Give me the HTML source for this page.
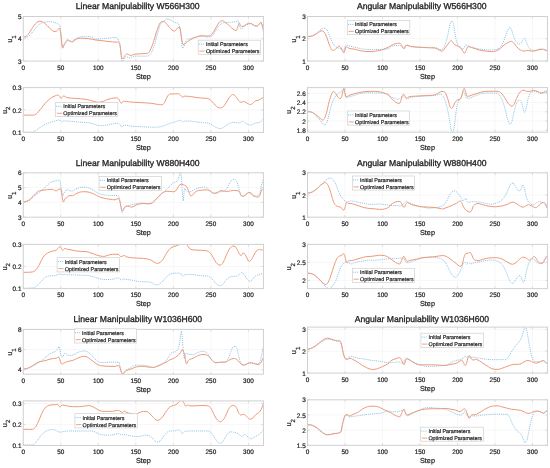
<!DOCTYPE html><html><head><meta charset="utf-8"><style>html,body{margin:0;padding:0;background:#fff;}svg{display:block;}text{font-family:"Liberation Sans",Arial,sans-serif;fill:#222222;stroke:#222222;stroke-width:0.2px;text-rendering:geometricPrecision;}</style></head><body>
<svg width="550" height="468" viewBox="0 0 550 468">
<rect width="550" height="468" fill="#fff"/>
<text x="75.8" y="9.2" font-size="8.6" style="stroke-width:0.3px">Linear Manipulability W566H300</text>
<text x="357.0" y="9.2" font-size="8.6" style="stroke-width:0.3px">Angular Manipulability W566H300</text>
<text x="75.8" y="165.9" font-size="8.6" style="stroke-width:0.3px">Linear Manipulability W880H400</text>
<text x="357.0" y="165.9" font-size="8.6" style="stroke-width:0.3px">Angular Manipulability W880H400</text>
<text x="73.6" y="322.2" font-size="8.6" style="stroke-width:0.3px">Linear Manipulability W1036H600</text>
<text x="354.8" y="322.2" font-size="8.6" style="stroke-width:0.3px">Angular Manipulability W1036H600</text>
<path d="M60.78 16.50V61.05M98.31 16.50V61.05M135.84 16.50V61.05M173.38 16.50V61.05M210.91 16.50V61.05M248.44 16.50V61.05M23.25 38.77H263.45" stroke="#f1f1f1" stroke-width="0.6" fill="none"/>
<clipPath id="cL1"><rect x="23.25" y="16.50" width="240.20" height="44.55"/></clipPath>
<path clip-path="url(#cL1)" d="M23.33,38.23C24.21,38.01 25.10,37.86 25.98,37.56C26.87,37.27 27.75,36.83 28.64,36.24C29.52,35.65 30.41,34.56 31.29,33.58C32.18,32.60 33.06,31.37 33.95,30.26C34.83,29.16 35.72,27.87 36.60,26.95C37.48,26.02 38.37,25.19 39.25,24.56C40.14,23.92 41.02,23.28 41.91,22.96C42.79,22.65 43.68,22.47 44.56,22.30C45.45,22.13 46.33,22.01 47.22,21.90C48.10,21.80 48.99,21.64 49.87,21.64C51.20,21.64 52.53,21.99 53.85,22.30C54.74,22.50 55.62,22.85 56.51,23.23C57.17,23.51 57.84,23.82 58.50,24.29C58.94,24.61 59.38,24.79 59.83,25.62C60.05,26.03 60.27,27.94 60.49,29.60C60.71,31.26 60.93,34.02 61.15,36.24C61.38,38.45 61.60,41.21 61.82,42.87C62.04,44.53 62.26,46.85 62.48,46.85C62.92,46.85 63.37,45.56 63.81,44.86C64.47,43.82 65.14,42.66 65.80,41.55C66.24,40.80 66.68,39.29 67.13,39.29C67.57,39.29 68.01,39.58 68.45,39.82C68.90,40.06 69.34,40.67 69.78,40.88C70.45,41.20 71.11,41.55 71.77,41.55C72.44,41.55 73.10,40.69 73.76,40.22C74.65,39.60 75.53,38.65 76.42,38.23C77.30,37.80 78.19,37.50 79.07,37.30C80.40,36.99 81.73,36.63 83.05,36.63C84.38,36.63 85.71,36.63 87.04,36.63C88.36,36.63 89.69,36.74 91.02,36.90C92.35,37.06 93.68,39.09 95.02,39.09C96.69,39.09 98.36,38.87 100.04,38.76C101.71,38.64 103.38,38.56 105.05,38.42C106.73,38.29 108.40,38.10 110.07,37.92C111.47,37.77 112.86,37.42 114.25,37.42C115.09,37.42 115.93,37.62 116.76,37.92C117.32,38.12 117.88,38.94 118.44,39.93C118.88,40.71 119.33,42.04 119.77,44.11C120.16,45.92 120.56,51.15 120.95,54.15C121.22,56.28 121.50,59.35 121.78,60.00C122.06,60.65 122.34,61.17 122.62,61.17C123.18,61.17 123.73,59.58 124.29,58.83C124.85,58.08 125.41,56.65 125.96,56.65C126.52,56.65 127.08,56.97 127.64,57.16C128.19,57.35 128.75,57.83 129.31,57.83C130.15,57.83 130.98,57.39 131.82,57.16C132.93,56.84 134.05,56.15 135.16,56.15C136.84,56.15 138.51,56.15 140.18,56.15C141.85,56.15 143.53,56.15 145.20,56.15C146.32,56.15 147.43,56.03 148.55,55.82C149.38,55.66 150.22,54.48 151.05,53.31C151.89,52.14 152.73,49.67 153.56,47.45C154.12,45.98 154.68,44.35 155.24,42.44C155.79,40.52 156.35,37.83 156.91,35.75C157.47,33.66 158.02,31.69 158.58,29.89C159.14,28.09 159.70,25.99 160.25,24.87C160.81,23.76 161.37,22.89 161.93,22.36C162.76,21.57 163.60,21.25 164.44,20.69C165.27,20.13 166.11,19.02 166.95,19.02C167.78,19.02 168.62,19.29 169.45,19.52C170.29,19.75 171.13,20.23 171.96,20.69C172.80,21.15 173.64,22.18 174.47,22.36C175.31,22.55 176.15,22.50 176.98,22.70C177.72,22.87 178.45,23.53 179.18,24.87C179.46,25.38 179.74,27.41 180.02,29.05C180.46,31.69 180.91,35.67 181.36,39.09C181.75,42.09 182.14,48.29 182.53,48.29C182.81,48.29 183.08,47.83 183.36,47.45C183.92,46.69 184.48,44.51 185.04,43.27C185.59,42.03 186.15,40.37 186.71,39.93C187.27,39.48 187.82,39.28 188.38,39.09C189.50,38.70 190.61,38.55 191.73,38.25C193.12,37.89 194.52,37.32 195.91,37.08C197.30,36.85 198.70,36.58 200.09,36.58C201.48,36.58 202.88,36.58 204.27,36.58C205.67,36.58 207.06,37.08 208.45,37.08C209.29,37.08 210.13,36.86 210.96,36.58C211.80,36.30 212.64,35.12 213.47,34.07C214.31,33.03 215.15,31.13 215.98,29.89C216.82,28.65 217.65,27.50 218.49,26.55C219.33,25.59 220.16,24.62 221.00,24.04C221.84,23.45 222.67,22.84 223.51,22.70C224.62,22.50 225.74,22.36 226.85,22.36C227.97,22.36 229.08,22.36 230.20,22.36C231.32,22.36 232.43,22.18 233.55,22.03C234.38,21.92 235.22,21.75 236.05,21.53C236.78,21.34 237.50,20.69 238.23,20.69C238.62,20.69 239.01,24.62 239.40,25.71C239.96,27.26 240.52,29.05 241.07,29.05C241.63,29.05 242.19,28.60 242.75,28.22C243.58,27.65 244.42,25.88 245.25,25.37C246.37,24.70 247.48,24.21 248.60,24.04C249.72,23.86 250.83,23.70 251.95,23.70C252.78,23.70 253.62,25.52 254.45,25.71C255.29,25.90 256.13,26.04 256.96,26.04C257.80,26.04 258.64,24.85 259.47,24.04C260.03,23.49 260.59,22.03 261.15,22.03C261.70,22.03 262.26,24.19 262.82,24.87C263.10,25.21 263.38,25.43 263.65,25.71" stroke="#7dbde6" stroke-width="0.9" fill="none" stroke-linejoin="round" stroke-linecap="butt" stroke-dasharray="1.1 1.0"/>
<path clip-path="url(#cL1)" d="M23.33,36.90C24.21,36.68 25.10,36.59 25.98,36.24C26.87,35.88 27.75,34.64 28.64,33.58C29.52,32.52 30.41,30.93 31.29,29.60C32.18,28.27 33.06,26.74 33.95,25.62C34.83,24.50 35.72,23.35 36.60,22.70C37.48,22.05 38.37,21.24 39.25,21.24C39.92,21.24 40.58,21.29 41.25,21.37C41.91,21.45 42.57,21.92 43.24,22.30C44.12,22.80 45.01,23.53 45.89,24.29C46.78,25.05 47.66,26.06 48.55,26.95C49.43,27.83 50.32,28.90 51.20,29.60C52.08,30.30 52.97,31.14 53.85,31.33C54.52,31.47 55.18,31.59 55.85,31.59C56.51,31.59 57.17,30.54 57.84,29.87C58.28,29.42 58.72,28.27 59.16,28.27C59.38,28.27 59.61,28.57 59.83,28.94C60.05,29.31 60.27,30.89 60.49,32.25C60.71,33.62 60.93,35.60 61.15,37.56C61.38,39.53 61.60,42.54 61.82,44.20C62.04,45.86 62.26,48.18 62.48,48.18C62.70,48.18 62.92,47.82 63.15,47.52C63.59,46.91 64.03,44.99 64.47,44.20C65.14,43.02 65.80,42.30 66.46,41.55C66.91,41.04 67.35,40.22 67.79,40.22C68.23,40.22 68.68,40.72 69.12,40.88C69.56,41.05 70.00,41.11 70.45,41.28C70.89,41.45 71.33,41.94 71.77,41.94C72.22,41.94 72.66,41.73 73.10,41.55C73.76,41.26 74.43,40.37 75.09,39.95C75.98,39.40 76.86,38.83 77.75,38.63C78.63,38.42 79.52,38.23 80.40,38.23C81.73,38.23 83.05,38.30 84.38,38.36C85.71,38.42 87.04,38.50 88.36,38.63C89.69,38.75 91.02,39.03 92.35,39.29C93.24,39.47 94.13,39.80 95.02,39.93C96.69,40.17 98.36,40.24 100.04,40.43C101.71,40.62 103.38,40.91 105.05,41.10C106.73,41.29 108.40,41.43 110.07,41.60C111.75,41.77 113.42,42.10 115.09,42.10C115.93,42.10 116.76,42.10 117.60,42.10C118.16,42.10 118.72,42.33 119.27,42.77C119.55,42.99 119.83,44.40 120.11,45.78C120.39,47.17 120.67,50.49 120.95,52.47C121.22,54.46 121.50,57.39 121.78,57.83C122.17,58.44 122.56,58.83 122.95,58.83C123.40,58.83 123.84,57.30 124.29,56.65C124.85,55.85 125.41,54.91 125.96,54.48C126.35,54.18 126.74,53.81 127.13,53.81C127.58,53.81 128.03,54.24 128.47,54.48C129.03,54.78 129.59,55.48 130.15,55.48C130.98,55.48 131.82,55.19 132.65,54.98C133.49,54.77 134.33,54.25 135.16,54.15C136.84,53.94 138.51,53.92 140.18,53.81C141.85,53.70 143.53,53.59 145.20,53.48C146.04,53.42 146.87,53.42 147.71,53.31C148.27,53.24 148.82,52.38 149.38,51.64C149.94,50.89 150.50,49.53 151.05,48.29C151.61,47.05 152.17,45.63 152.73,44.11C153.28,42.59 153.84,40.89 154.40,39.09C154.96,37.29 155.52,35.04 156.07,33.24C156.63,31.43 157.19,29.74 157.75,28.22C158.30,26.70 158.86,24.94 159.42,24.04C159.98,23.13 160.53,22.23 161.09,22.03C161.93,21.73 162.76,21.53 163.60,21.53C164.16,21.53 164.72,21.97 165.27,22.36C165.83,22.76 166.39,23.70 166.95,24.37C167.78,25.37 168.62,26.47 169.45,27.38C170.29,28.29 171.13,29.36 171.96,29.89C172.80,30.42 173.64,31.06 174.47,31.06C175.03,31.06 175.59,30.40 176.15,29.89C176.70,29.38 177.26,27.89 177.82,27.72C178.44,27.52 179.06,27.38 179.68,27.38C180.07,27.38 180.46,30.18 180.85,32.40C181.13,33.98 181.41,37.56 181.69,39.09C182.14,41.53 182.58,44.44 183.03,44.44C183.70,44.44 184.37,44.09 185.04,43.77C185.87,43.38 186.71,42.23 187.55,41.60C188.38,40.97 189.22,40.41 190.05,39.93C191.17,39.29 192.28,38.75 193.40,38.25C194.52,37.76 195.63,37.33 196.75,36.92C197.86,36.50 198.98,35.75 200.09,35.75C201.21,35.75 202.32,35.75 203.44,35.75C204.83,35.75 206.22,36.08 207.62,36.08C208.45,36.08 209.29,35.94 210.13,35.75C210.96,35.55 211.80,34.28 212.64,33.24C213.47,32.19 214.31,30.45 215.15,29.05C215.98,27.66 216.82,26.11 217.65,24.87C218.49,23.63 219.33,21.97 220.16,21.53C221.00,21.08 221.84,20.69 222.67,20.69C223.51,20.69 224.35,21.77 225.18,22.36C226.30,23.15 227.41,23.92 228.53,24.87C229.64,25.83 230.76,27.33 231.87,28.22C232.71,28.88 233.55,29.42 234.38,29.89C234.94,30.21 235.50,30.73 236.05,30.73C236.44,30.73 236.84,29.59 237.23,28.72C237.67,27.73 238.12,25.22 238.56,24.37C238.84,23.84 239.12,23.20 239.40,23.20C239.79,23.20 240.18,25.33 240.57,25.71C241.02,26.15 241.46,26.55 241.91,26.55C242.75,26.55 243.58,26.08 244.42,25.71C245.25,25.34 246.09,24.41 246.93,24.04C247.76,23.66 248.60,23.20 249.44,23.20C250.27,23.20 251.11,23.66 251.95,24.04C252.78,24.41 253.62,25.52 254.45,25.71C255.29,25.89 256.13,26.04 256.96,26.04C257.80,26.04 258.64,24.57 259.47,23.70C259.86,23.30 260.25,22.36 260.64,22.36C261.09,22.36 261.54,23.70 261.98,24.87C262.43,26.04 262.87,28.78 263.32,30.73" stroke="#ee9878" stroke-width="1.0" fill="none" stroke-linejoin="round" stroke-linecap="butt"/>
<rect x="23.25" y="16.50" width="240.20" height="44.55" stroke="#d0d0d0" stroke-width="1" fill="none"/>
<path d="M23.25 61.05v-2.2M23.25 16.50v2.2M60.78 61.05v-2.2M60.78 16.50v2.2M98.31 61.05v-2.2M98.31 16.50v2.2M135.84 61.05v-2.2M135.84 16.50v2.2M173.38 61.05v-2.2M173.38 16.50v2.2M210.91 61.05v-2.2M210.91 16.50v2.2M248.44 61.05v-2.2M248.44 16.50v2.2M23.25 61.05h2.2M263.45 61.05h-2.2M23.25 38.77h2.2M263.45 38.77h-2.2M23.25 16.50h2.2M263.45 16.50h-2.2" stroke="#d0d0d0" stroke-width="0.7" fill="none"/>
<text x="23.25" y="69.55" font-size="6.4" text-anchor="middle">0</text>
<text x="60.78" y="69.55" font-size="6.4" text-anchor="middle">50</text>
<text x="98.31" y="69.55" font-size="6.4" text-anchor="middle">100</text>
<text x="135.84" y="69.55" font-size="6.4" text-anchor="middle">150</text>
<text x="173.38" y="69.55" font-size="6.4" text-anchor="middle">200</text>
<text x="210.91" y="69.55" font-size="6.4" text-anchor="middle">250</text>
<text x="248.44" y="69.55" font-size="6.4" text-anchor="middle">300</text>
<text x="21.45" y="63.65" font-size="6.4" text-anchor="end">3</text>
<text x="21.45" y="41.38" font-size="6.4" text-anchor="end">4</text>
<text x="21.45" y="19.10" font-size="6.4" text-anchor="end">5</text>
<text x="143.35" y="78.55" font-size="7.25" text-anchor="middle">Step</text>
<text transform="translate(12.15 39.07) rotate(-90)" font-size="7.4" text-anchor="middle">u<tspan font-size="6" dy="3.7">1</tspan></text>
<rect x="198.20" y="40.20" width="62.40" height="14.10" fill="#fff" stroke="#d0d0d0" stroke-width="0.7"/>
<path d="M198.80 44.10h5.6" stroke="#7dbde6" stroke-width="0.9" stroke-dasharray="1.1 1.0"/>
<path d="M199.40 51.10h5.2" stroke="#ee9878" stroke-width="0.9"/>
<text x="205.90" y="46.00" font-size="5.4">Initial Parameters</text>
<text x="205.90" y="53.00" font-size="5.4">Optimized Parameters</text>
<path d="M60.78 87.60V132.40M98.31 87.60V132.40M135.84 87.60V132.40M173.38 87.60V132.40M210.91 87.60V132.40M248.44 87.60V132.40M23.25 110.00H263.45" stroke="#f1f1f1" stroke-width="0.6" fill="none"/>
<clipPath id="cL2"><rect x="23.25" y="87.60" width="240.20" height="44.80"/></clipPath>
<path clip-path="url(#cL2)" d="M23.01,132.19C24.24,132.19 25.46,132.19 26.69,132.19C28.36,132.19 30.04,132.19 31.71,132.19C32.82,132.19 33.94,131.55 35.05,131.02C36.17,130.49 37.28,129.25 38.40,128.51C39.52,127.77 40.63,127.20 41.75,126.50C42.86,125.81 43.98,124.83 45.09,124.33C46.21,123.82 47.32,123.57 48.44,123.16C49.55,122.74 50.67,122.16 51.78,121.82C52.90,121.48 54.01,121.30 55.13,120.98C55.96,120.74 56.80,120.35 57.64,120.15C58.19,120.01 58.75,119.81 59.31,119.81C59.76,119.81 60.20,120.63 60.65,120.98C61.04,121.29 61.43,121.82 61.82,121.82C62.38,121.82 62.93,120.98 63.49,120.98C64.61,120.98 65.72,120.98 66.84,120.98C68.51,120.98 70.18,121.18 71.85,121.32C73.53,121.45 75.20,121.65 76.87,121.82C78.55,121.99 80.22,122.19 81.89,122.32C83.56,122.45 85.24,122.50 86.91,122.65C88.58,122.81 90.25,123.12 91.93,123.49C93.60,123.86 95.27,124.83 96.95,125.16C98.06,125.39 99.18,125.67 100.29,125.67C101.41,125.67 102.52,125.58 103.64,125.50C105.77,125.34 107.90,124.70 110.04,124.33C111.71,124.04 113.38,123.74 115.05,123.49C115.89,123.37 116.73,123.16 117.56,123.16C118.12,123.16 118.68,123.48 119.24,123.83C119.79,124.17 120.35,125.25 120.91,126.00C121.19,126.38 121.47,127.17 121.75,127.17C122.19,127.17 122.64,125.64 123.08,125.50C123.75,125.29 124.42,125.16 125.09,125.16C126.76,125.16 128.44,125.82 130.11,126.00C132.34,126.23 134.57,126.37 136.80,126.50C139.03,126.64 141.26,126.72 143.49,126.84C145.72,126.95 147.95,127.17 150.18,127.17C152.41,127.17 154.64,127.17 156.87,127.17C158.55,127.17 160.22,126.85 161.89,126.50C163.01,126.27 164.12,125.61 165.24,125.16C166.35,124.72 167.47,124.21 168.58,123.83C169.70,123.44 170.81,123.16 171.93,122.82C173.04,122.49 174.16,122.17 175.27,121.82C176.11,121.55 176.95,121.32 177.78,120.98C178.34,120.76 178.90,120.15 179.45,120.15C180.01,120.15 180.57,120.70 181.13,120.98C181.68,121.26 182.24,121.82 182.80,121.82C183.55,121.82 184.29,120.98 185.04,120.98C186.15,120.98 187.27,120.98 188.38,120.98C190.05,120.98 191.73,121.29 193.40,121.48C195.07,121.67 196.75,121.96 198.42,122.15C200.09,122.34 201.76,122.49 203.44,122.65C205.11,122.82 206.78,122.86 208.45,123.16C209.29,123.30 210.13,123.87 210.96,124.33C211.80,124.79 212.64,125.52 213.47,126.00C214.59,126.64 215.70,127.30 216.82,127.67C217.93,128.04 219.05,128.51 220.16,128.51C221.00,128.51 221.84,128.27 222.67,128.01C223.51,127.74 224.35,126.61 225.18,126.00C226.02,125.39 226.85,124.79 227.69,124.33C228.53,123.87 229.36,123.43 230.20,123.16C231.32,122.79 232.43,122.32 233.55,122.32C234.66,122.32 235.78,122.50 236.89,122.65C237.73,122.77 238.56,123.16 239.40,123.16C240.24,123.16 241.07,120.98 241.91,120.98C242.47,120.98 243.02,121.23 243.58,121.48C244.14,121.74 244.70,122.79 245.25,123.16C246.09,123.70 246.93,124.00 247.76,124.33C248.60,124.65 249.44,125.16 250.27,125.16C251.11,125.16 251.95,124.65 252.78,124.33C253.62,124.00 254.45,123.39 255.29,123.16C256.13,122.92 256.96,122.82 257.80,122.65C258.64,122.49 259.47,122.45 260.31,122.15C260.87,121.95 261.42,120.83 261.98,120.15C262.43,119.60 262.87,119.03 263.32,118.47" stroke="#7dbde6" stroke-width="0.9" fill="none" stroke-linejoin="round" stroke-linecap="butt" stroke-dasharray="1.1 1.0"/>
<path clip-path="url(#cL2)" d="M23.01,115.13C24.80,115.13 26.58,115.13 28.36,115.13C30.04,115.13 31.71,115.13 33.38,115.13C34.22,115.13 35.05,114.71 35.89,114.29C36.73,113.87 37.56,112.71 38.40,111.78C39.52,110.55 40.63,108.99 41.75,107.60C42.86,106.21 43.98,104.66 45.09,103.42C46.21,102.18 47.32,101.03 48.44,100.07C49.55,99.12 50.67,98.23 51.78,97.56C52.90,96.89 54.01,96.33 55.13,95.89C55.96,95.56 56.80,95.05 57.64,95.05C58.19,95.05 58.75,95.49 59.31,95.89C59.87,96.29 60.42,98.07 60.98,98.07C61.37,98.07 61.76,97.81 62.15,97.56C62.60,97.28 63.04,95.89 63.49,95.89C63.94,95.89 64.38,96.19 64.83,96.39C65.50,96.69 66.17,97.40 66.84,97.56C67.95,97.84 69.07,97.96 70.18,98.07C71.85,98.22 73.53,98.29 75.20,98.40C76.87,98.51 78.55,98.60 80.22,98.73C81.89,98.87 83.56,99.00 85.24,99.24C86.91,99.47 88.58,99.99 90.25,100.41C91.93,100.82 93.60,101.43 95.27,101.75C96.39,101.96 97.50,102.25 98.62,102.25C99.73,102.25 100.85,101.99 101.96,101.75C103.08,101.50 104.19,100.90 105.31,100.41C105.77,100.20 106.23,99.91 106.69,99.74C107.81,99.31 108.92,99.00 110.04,98.73C111.15,98.47 112.27,98.15 113.38,98.07C114.50,97.98 115.61,97.90 116.73,97.90C117.28,97.90 117.84,98.30 118.40,98.73C118.96,99.17 119.52,100.93 120.07,101.75C120.52,102.40 120.96,103.42 121.41,103.42C121.80,103.42 122.19,101.95 122.58,101.75C123.14,101.46 123.70,101.24 124.25,101.24C125.65,101.24 127.04,101.59 128.44,101.75C130.11,101.93 131.78,102.13 133.45,102.25C135.68,102.40 137.92,102.47 140.15,102.58C142.38,102.69 144.61,102.77 146.84,102.92C148.51,103.03 150.18,103.21 151.85,103.42C153.53,103.63 155.20,103.99 156.87,104.25C157.99,104.43 159.10,104.76 160.22,104.76C161.05,104.76 161.89,104.70 162.73,104.59C163.28,104.51 163.84,103.42 164.40,102.58C164.96,101.75 165.52,100.35 166.07,99.24C166.63,98.12 167.19,96.63 167.75,95.89C168.30,95.15 168.86,94.36 169.42,94.22C170.25,94.01 171.09,93.88 171.93,93.88C173.04,93.88 174.16,93.88 175.27,93.88C176.11,93.88 176.95,93.72 177.78,93.72C178.34,93.72 178.90,93.96 179.45,94.22C180.01,94.48 180.57,95.40 181.13,95.89C181.68,96.39 182.24,97.23 182.80,97.23C183.27,97.23 183.73,96.23 184.20,96.23C185.04,96.23 185.87,96.23 186.71,96.23C188.38,96.23 190.05,96.52 191.73,96.73C193.40,96.94 195.07,97.35 196.75,97.56C198.42,97.77 200.09,97.94 201.76,98.07C203.72,98.21 205.67,98.17 207.62,98.40C208.45,98.50 209.29,99.16 210.13,99.74C210.96,100.32 211.80,101.36 212.64,102.25C213.47,103.14 214.31,104.31 215.15,105.09C215.98,105.88 216.82,106.70 217.65,107.10C218.49,107.49 219.33,107.93 220.16,107.93C221.00,107.93 221.84,107.63 222.67,107.27C223.51,106.90 224.35,105.42 225.18,104.25C226.02,103.09 226.85,101.38 227.69,100.07C228.53,98.77 229.36,97.21 230.20,96.39C231.04,95.57 231.87,94.55 232.71,94.55C233.27,94.55 233.82,94.80 234.38,95.05C235.22,95.44 236.05,97.01 236.89,98.07C237.73,99.12 238.56,100.82 239.40,101.41C239.96,101.80 240.52,102.25 241.07,102.25C241.91,102.25 242.75,101.41 243.58,101.41C244.42,101.41 245.25,102.17 246.09,102.58C246.93,103.00 247.76,103.54 248.60,103.92C249.16,104.17 249.72,104.59 250.27,104.59C251.11,104.59 251.95,103.95 252.78,103.42C253.62,102.89 254.45,101.19 255.29,100.91C256.13,100.63 256.96,100.64 257.80,100.41C258.64,100.17 259.47,99.69 260.31,99.24C261.31,98.69 262.32,97.90 263.32,97.23" stroke="#ee9878" stroke-width="1.0" fill="none" stroke-linejoin="round" stroke-linecap="butt"/>
<rect x="23.25" y="87.60" width="240.20" height="44.80" stroke="#d0d0d0" stroke-width="1" fill="none"/>
<path d="M23.25 132.40v-2.2M23.25 87.60v2.2M60.78 132.40v-2.2M60.78 87.60v2.2M98.31 132.40v-2.2M98.31 87.60v2.2M135.84 132.40v-2.2M135.84 87.60v2.2M173.38 132.40v-2.2M173.38 87.60v2.2M210.91 132.40v-2.2M210.91 87.60v2.2M248.44 132.40v-2.2M248.44 87.60v2.2M23.25 132.40h2.2M263.45 132.40h-2.2M23.25 110.00h2.2M263.45 110.00h-2.2M23.25 87.60h2.2M263.45 87.60h-2.2" stroke="#d0d0d0" stroke-width="0.7" fill="none"/>
<text x="23.25" y="140.90" font-size="6.4" text-anchor="middle">0</text>
<text x="60.78" y="140.90" font-size="6.4" text-anchor="middle">50</text>
<text x="98.31" y="140.90" font-size="6.4" text-anchor="middle">100</text>
<text x="135.84" y="140.90" font-size="6.4" text-anchor="middle">150</text>
<text x="173.38" y="140.90" font-size="6.4" text-anchor="middle">200</text>
<text x="210.91" y="140.90" font-size="6.4" text-anchor="middle">250</text>
<text x="248.44" y="140.90" font-size="6.4" text-anchor="middle">300</text>
<text x="21.45" y="135.00" font-size="6.4" text-anchor="end">0.1</text>
<text x="21.45" y="112.60" font-size="6.4" text-anchor="end">0.2</text>
<text x="21.45" y="90.20" font-size="6.4" text-anchor="end">0.3</text>
<text x="143.35" y="149.90" font-size="7.25" text-anchor="middle">Step</text>
<text transform="translate(6.75 110.30) rotate(-90)" font-size="7.4" text-anchor="middle">u<tspan font-size="6" dy="3.7">2</tspan></text>
<rect x="55.60" y="102.40" width="62.20" height="14.20" fill="#fff" stroke="#d0d0d0" stroke-width="0.7"/>
<path d="M56.20 106.30h5.6" stroke="#7dbde6" stroke-width="0.9" stroke-dasharray="1.1 1.0"/>
<path d="M56.80 113.30h5.2" stroke="#ee9878" stroke-width="0.9"/>
<text x="63.30" y="108.20" font-size="5.4">Initial Parameters</text>
<text x="63.30" y="115.20" font-size="5.4">Optimized Parameters</text>
<path d="M60.78 172.80V217.20M98.31 172.80V217.20M135.84 172.80V217.20M173.38 172.80V217.20M210.91 172.80V217.20M248.44 172.80V217.20M23.25 202.40H263.45M23.25 187.60H263.45" stroke="#f1f1f1" stroke-width="0.6" fill="none"/>
<clipPath id="cL3"><rect x="23.25" y="172.80" width="240.20" height="44.40"/></clipPath>
<path clip-path="url(#cL3)" d="M23.01,202.64C23.96,202.36 24.91,202.10 25.85,201.80C26.69,201.54 27.53,201.34 28.36,200.96C29.20,200.59 30.04,199.96 30.87,199.29C31.71,198.62 32.55,197.50 33.38,196.78C34.50,195.82 35.61,195.11 36.73,194.27C37.84,193.44 38.96,192.65 40.07,191.76C41.19,190.87 42.30,189.89 43.42,188.92C44.53,187.95 45.65,186.97 46.76,185.91C47.60,185.11 48.44,184.07 49.27,183.40C50.11,182.73 50.95,181.98 51.78,181.73C52.62,181.47 53.45,181.42 54.29,181.23C55.13,181.03 55.96,180.77 56.80,180.56C57.47,180.38 58.14,180.05 58.81,180.05C59.25,180.05 59.70,180.76 60.15,181.73C60.42,182.33 60.70,184.94 60.98,186.75C61.26,188.55 61.54,191.18 61.82,192.60C62.10,194.02 62.38,195.95 62.65,195.95C63.04,195.95 63.44,194.15 63.83,193.44C64.55,192.12 65.28,190.27 66.00,190.09C66.84,189.88 67.67,189.76 68.51,189.76C69.07,189.76 69.62,190.93 70.18,190.93C71.02,190.93 71.85,190.93 72.69,190.93C73.53,190.93 74.36,189.64 75.20,189.25C76.32,188.73 77.43,188.41 78.55,188.08C79.66,187.76 80.78,187.34 81.89,187.25C83.01,187.15 84.12,187.08 85.24,187.08C86.35,187.08 87.47,187.57 88.58,187.92C89.70,188.26 90.81,188.70 91.93,189.25C93.04,189.81 94.16,190.73 95.27,191.43C96.39,192.12 97.50,192.97 98.62,193.44C100.01,194.02 101.41,194.56 102.80,194.77C105.21,195.14 107.62,195.44 110.04,195.44C111.71,195.44 113.38,195.44 115.05,195.44C116.17,195.44 117.28,195.58 118.40,195.95C118.85,196.09 119.29,197.73 119.74,199.29C120.13,200.66 120.52,203.75 120.91,205.98C121.30,208.21 121.69,212.67 122.08,212.67C122.53,212.67 122.97,210.98 123.42,210.16C123.98,209.14 124.53,207.58 125.09,207.15C125.93,206.51 126.76,206.31 127.60,205.98C128.44,205.66 129.27,205.39 130.11,205.15C131.22,204.82 132.34,204.59 133.45,204.31C134.57,204.03 135.68,203.63 136.80,203.47C137.92,203.31 139.03,203.14 140.15,203.14C141.26,203.14 142.38,203.14 143.49,203.14C145.16,203.14 146.84,203.81 148.51,203.81C149.62,203.81 150.74,203.51 151.85,203.14C152.69,202.86 153.53,201.74 154.36,200.96C155.48,199.93 156.59,198.73 157.71,197.62C158.82,196.50 159.94,195.30 161.05,194.27C162.17,193.25 163.28,192.39 164.40,191.43C165.24,190.71 166.07,190.03 166.91,189.25C168.02,188.22 169.14,187.02 170.25,185.91C171.37,184.79 172.48,183.11 173.60,182.56C174.44,182.16 175.27,182.16 176.11,181.73C176.67,181.44 177.22,180.89 177.78,180.05C178.34,179.22 178.90,176.42 179.45,175.04C179.84,174.07 180.24,172.53 180.63,172.53C180.90,172.53 181.18,175.54 181.46,178.38C181.63,180.09 181.80,184.28 181.96,186.75C182.24,190.86 182.52,195.23 182.80,197.62C182.97,199.05 183.13,200.96 183.30,200.96C183.43,200.96 183.57,198.14 183.70,196.78C183.98,193.91 184.26,188.42 184.53,188.42C184.98,188.42 185.43,189.59 185.87,190.09C186.43,190.71 186.99,191.76 187.55,191.76C188.38,191.76 189.22,191.76 190.05,191.76C191.17,191.76 192.28,190.65 193.40,190.09C194.52,189.53 195.63,188.79 196.75,188.42C197.86,188.05 198.98,187.77 200.09,187.58C201.48,187.35 202.88,187.08 204.27,187.08C205.39,187.08 206.50,187.77 207.62,188.42C208.45,188.91 209.29,190.21 210.13,190.93C211.24,191.89 212.36,193.44 213.47,193.44C214.59,193.44 215.70,193.28 216.82,193.10C217.93,192.92 219.05,191.94 220.16,191.76C221.28,191.59 222.39,191.63 223.51,191.43C224.62,191.23 225.74,189.83 226.85,188.42C227.69,187.36 228.53,184.74 229.36,183.40C230.20,182.06 231.04,180.50 231.87,180.05C232.71,179.61 233.55,179.22 234.38,179.22C235.22,179.22 236.05,180.43 236.89,181.73C237.45,182.59 238.01,184.75 238.56,186.75C239.01,188.34 239.46,191.07 239.90,192.60C240.29,193.94 240.68,195.95 241.07,195.95C241.91,195.95 242.75,195.95 243.58,195.95C244.42,195.95 245.25,194.83 246.09,194.27C246.93,193.72 247.76,192.60 248.60,192.60C249.44,192.60 250.27,193.64 251.11,194.27C251.95,194.90 252.78,196.45 253.62,196.45C254.73,196.45 255.85,196.23 256.96,195.95C257.80,195.73 258.64,195.29 259.47,194.27C260.03,193.59 260.59,189.09 261.15,186.75C261.42,185.57 261.70,184.37 261.98,183.40C262.54,181.46 263.10,180.05 263.65,178.38" stroke="#7dbde6" stroke-width="0.9" fill="none" stroke-linejoin="round" stroke-linecap="butt" stroke-dasharray="1.1 1.0"/>
<path clip-path="url(#cL3)" d="M23.01,202.13C23.96,201.91 24.91,201.75 25.85,201.47C26.69,201.22 27.53,200.91 28.36,200.46C29.20,200.02 30.04,199.20 30.87,198.45C31.71,197.71 32.55,196.78 33.38,195.95C34.22,195.11 35.05,194.21 35.89,193.44C36.73,192.66 37.56,191.66 38.40,191.26C39.24,190.86 40.07,190.56 40.91,190.43C42.02,190.25 43.14,190.22 44.25,190.09C45.37,189.96 46.48,189.72 47.60,189.59C48.72,189.46 49.83,189.25 50.95,189.25C51.78,189.25 52.62,189.52 53.45,189.76C54.29,189.99 55.13,190.93 55.96,190.93C56.52,190.93 57.08,190.38 57.64,190.09C58.47,189.66 59.31,188.75 60.15,188.75C60.42,188.75 60.70,188.95 60.98,189.25C61.26,189.56 61.54,192.47 61.82,194.27C62.10,196.07 62.38,199.13 62.65,200.13C62.93,201.12 63.21,202.13 63.49,202.13C63.77,202.13 64.05,200.69 64.33,200.13C64.72,199.34 65.11,198.36 65.50,198.12C65.94,197.84 66.39,197.88 66.84,197.62C67.28,197.36 67.73,196.10 68.17,195.95C68.73,195.75 69.29,195.61 69.85,195.61C70.80,195.61 71.74,195.61 72.69,195.61C73.81,195.61 74.92,194.32 76.04,193.77C77.15,193.22 78.27,192.52 79.38,192.27C80.50,192.01 81.61,191.76 82.73,191.76C83.84,191.76 84.96,191.76 86.07,191.76C87.47,191.76 88.86,192.23 90.25,192.60C91.65,192.97 93.04,193.64 94.44,194.27C95.83,194.90 97.22,195.85 98.62,196.45C100.01,197.04 101.41,197.60 102.80,197.95C105.21,198.56 107.62,198.98 110.04,199.29C111.71,199.50 113.38,199.79 115.05,199.79C116.17,199.79 117.28,198.45 118.40,198.45C118.85,198.45 119.29,199.73 119.74,200.96C120.13,202.04 120.52,205.19 120.91,206.82C121.30,208.44 121.69,211.00 122.08,211.00C122.53,211.00 122.97,209.93 123.42,209.33C123.98,208.57 124.53,207.24 125.09,206.82C125.65,206.40 126.21,205.98 126.76,205.98C127.60,205.98 128.44,206.29 129.27,206.48C130.11,206.67 130.95,207.15 131.78,207.15C132.62,207.15 133.45,206.37 134.29,205.98C135.13,205.59 135.96,205.12 136.80,204.81C137.92,204.40 139.03,203.97 140.15,203.81C141.26,203.64 142.38,203.47 143.49,203.47C144.88,203.47 146.28,203.81 147.67,203.81C148.79,203.81 149.90,203.67 151.02,203.47C151.85,203.32 152.69,202.46 153.53,201.80C154.64,200.92 155.76,199.62 156.87,198.45C157.99,197.29 159.10,195.77 160.22,194.77C161.33,193.78 162.45,192.74 163.56,192.27C164.68,191.79 165.79,191.26 166.91,191.26C168.02,191.26 169.14,191.35 170.25,191.43C171.37,191.50 172.48,191.76 173.60,191.76C174.44,191.76 175.27,191.13 176.11,190.43C176.67,189.96 177.22,188.41 177.78,187.58C178.51,186.50 179.23,185.04 179.96,184.74C180.63,184.46 181.29,184.24 181.96,184.24C182.71,184.24 183.45,184.75 184.20,185.07C184.76,185.31 185.32,185.49 185.87,185.91C186.43,186.33 186.99,187.37 187.55,188.42C188.10,189.46 188.66,191.36 189.22,192.60C189.78,193.84 190.33,195.95 190.89,195.95C191.45,195.95 192.01,195.49 192.56,195.11C193.40,194.53 194.24,192.66 195.07,192.10C196.19,191.35 197.30,190.81 198.42,190.59C199.81,190.32 201.21,190.22 202.60,190.09C203.99,189.96 205.39,189.76 206.78,189.76C207.90,189.76 209.01,190.42 210.13,190.93C211.24,191.43 212.36,193.10 213.47,193.10C214.31,193.10 215.15,193.10 215.98,193.10C216.82,193.10 217.65,192.18 218.49,191.76C219.33,191.35 220.16,190.59 221.00,190.59C221.84,190.59 222.67,190.81 223.51,190.93C224.62,191.08 225.74,191.43 226.85,191.43C227.97,191.43 229.08,191.09 230.20,190.93C231.32,190.76 232.43,190.43 233.55,190.43C234.66,190.43 235.78,190.49 236.89,190.59C237.73,190.67 238.56,191.10 239.40,191.76C239.96,192.20 240.52,194.47 241.07,195.11C241.63,195.75 242.19,196.45 242.75,196.45C243.58,196.45 244.42,195.63 245.25,195.11C246.37,194.42 247.48,192.60 248.60,192.60C249.27,192.60 249.94,192.60 250.61,192.60C251.33,192.60 252.06,194.58 252.78,195.11C253.62,195.72 254.45,196.10 255.29,196.45C256.13,196.79 256.96,197.28 257.80,197.28C258.36,197.28 258.92,196.62 259.47,195.95C260.03,195.27 260.59,193.04 261.15,191.76C261.54,190.87 261.93,189.25 262.32,189.25C262.76,189.25 263.21,189.81 263.65,190.09" stroke="#ee9878" stroke-width="1.0" fill="none" stroke-linejoin="round" stroke-linecap="butt"/>
<rect x="23.25" y="172.80" width="240.20" height="44.40" stroke="#d0d0d0" stroke-width="1" fill="none"/>
<path d="M23.25 217.20v-2.2M23.25 172.80v2.2M60.78 217.20v-2.2M60.78 172.80v2.2M98.31 217.20v-2.2M98.31 172.80v2.2M135.84 217.20v-2.2M135.84 172.80v2.2M173.38 217.20v-2.2M173.38 172.80v2.2M210.91 217.20v-2.2M210.91 172.80v2.2M248.44 217.20v-2.2M248.44 172.80v2.2M23.25 217.20h2.2M263.45 217.20h-2.2M23.25 202.40h2.2M263.45 202.40h-2.2M23.25 187.60h2.2M263.45 187.60h-2.2M23.25 172.80h2.2M263.45 172.80h-2.2" stroke="#d0d0d0" stroke-width="0.7" fill="none"/>
<text x="23.25" y="225.70" font-size="6.4" text-anchor="middle">0</text>
<text x="60.78" y="225.70" font-size="6.4" text-anchor="middle">50</text>
<text x="98.31" y="225.70" font-size="6.4" text-anchor="middle">100</text>
<text x="135.84" y="225.70" font-size="6.4" text-anchor="middle">150</text>
<text x="173.38" y="225.70" font-size="6.4" text-anchor="middle">200</text>
<text x="210.91" y="225.70" font-size="6.4" text-anchor="middle">250</text>
<text x="248.44" y="225.70" font-size="6.4" text-anchor="middle">300</text>
<text x="21.45" y="219.80" font-size="6.4" text-anchor="end">3</text>
<text x="21.45" y="205.00" font-size="6.4" text-anchor="end">4</text>
<text x="21.45" y="190.20" font-size="6.4" text-anchor="end">5</text>
<text x="21.45" y="175.40" font-size="6.4" text-anchor="end">6</text>
<text x="143.35" y="234.70" font-size="7.25" text-anchor="middle">Step</text>
<text transform="translate(12.15 195.30) rotate(-90)" font-size="7.4" text-anchor="middle">u<tspan font-size="6" dy="3.7">1</tspan></text>
<rect x="99.10" y="176.40" width="62.40" height="14.20" fill="#fff" stroke="#d0d0d0" stroke-width="0.7"/>
<path d="M99.70 180.30h5.6" stroke="#7dbde6" stroke-width="0.9" stroke-dasharray="1.1 1.0"/>
<path d="M100.30 187.30h5.2" stroke="#ee9878" stroke-width="0.9"/>
<text x="106.80" y="182.20" font-size="5.4">Initial Parameters</text>
<text x="106.80" y="189.20" font-size="5.4">Optimized Parameters</text>
<path d="M60.78 244.40V288.60M98.31 244.40V288.60M135.84 244.40V288.60M173.38 244.40V288.60M210.91 244.40V288.60M248.44 244.40V288.60M23.25 266.50H263.45" stroke="#f1f1f1" stroke-width="0.6" fill="none"/>
<clipPath id="cL4"><rect x="23.25" y="244.40" width="240.20" height="44.20"/></clipPath>
<path clip-path="url(#cL4)" d="M23.01,288.18C24.80,288.18 26.58,288.18 28.36,288.18C30.04,288.18 31.71,288.06 33.38,287.85C34.22,287.74 35.05,287.04 35.89,286.51C36.73,285.97 37.56,285.27 38.40,284.50C39.24,283.74 40.07,282.74 40.91,281.83C41.75,280.91 42.58,279.77 43.42,278.98C44.25,278.20 45.09,277.37 45.93,276.97C46.76,276.58 47.60,276.31 48.44,276.14C49.55,275.90 50.67,275.64 51.78,275.64C52.90,275.64 54.01,275.64 55.13,275.64C55.96,275.64 56.80,275.08 57.64,274.80C58.47,274.52 59.31,273.96 60.15,273.96C60.70,273.96 61.26,274.47 61.82,274.47C62.65,274.47 63.49,274.47 64.33,274.47C65.72,274.47 67.12,274.80 68.51,274.80C70.18,274.80 71.85,274.80 73.53,274.80C75.20,274.80 76.87,275.06 78.55,275.13C80.22,275.21 81.89,275.23 83.56,275.30C85.24,275.38 86.91,275.46 88.58,275.64C90.25,275.81 91.93,276.35 93.60,276.81C95.27,277.27 96.95,278.06 98.62,278.48C100.29,278.90 101.96,279.48 103.64,279.48C105.77,279.48 107.90,279.48 110.04,279.48C111.71,279.48 113.38,279.00 115.05,278.65C116.06,278.43 117.06,277.81 118.07,277.81C118.73,277.81 119.40,278.55 120.07,278.98C120.63,279.34 121.19,280.15 121.75,280.15C122.30,280.15 122.86,278.98 123.42,278.98C124.53,278.98 125.65,279.33 126.76,279.48C128.44,279.72 130.11,279.89 131.78,280.15C133.45,280.42 135.13,280.93 136.80,281.16C139.03,281.46 141.26,281.83 143.49,281.83C145.16,281.83 146.84,281.83 148.51,281.83C149.62,281.83 150.74,282.41 151.85,282.83C152.97,283.25 154.08,284.27 155.20,284.50C156.04,284.67 156.87,284.84 157.71,284.84C158.55,284.84 159.38,284.07 160.22,283.50C161.05,282.93 161.89,282.03 162.73,281.16C163.56,280.28 164.40,279.01 165.24,278.15C166.35,276.99 167.47,275.85 168.58,275.13C169.70,274.42 170.81,273.65 171.93,273.46C173.04,273.28 174.16,273.13 175.27,273.13C176.39,273.13 177.50,273.13 178.62,273.13C179.45,273.13 180.29,273.50 181.13,273.96C181.68,274.27 182.24,276.14 182.80,276.14C183.27,276.14 183.73,275.32 184.20,275.13C185.04,274.79 185.87,274.47 186.71,274.47C188.38,274.47 190.05,274.47 191.73,274.47C193.40,274.47 195.07,274.94 196.75,275.13C198.42,275.33 200.09,275.48 201.76,275.64C203.72,275.82 205.67,275.83 207.62,276.14C208.73,276.31 209.85,277.04 210.96,277.81C212.08,278.58 213.19,280.32 214.31,281.49C215.42,282.66 216.54,284.29 217.65,284.84C218.49,285.24 219.33,285.67 220.16,285.67C221.00,285.67 221.84,285.08 222.67,284.50C223.51,283.92 224.35,282.15 225.18,281.16C226.02,280.17 226.85,279.17 227.69,278.48C228.53,277.79 229.36,276.96 230.20,276.81C231.32,276.61 232.43,276.62 233.55,276.47C234.94,276.29 236.33,276.11 237.73,275.64C238.56,275.35 239.40,274.10 240.24,273.46C240.79,273.03 241.35,272.29 241.91,272.29C242.47,272.29 243.02,273.33 243.58,273.96C244.42,274.91 245.25,276.19 246.09,277.31C246.93,278.42 247.76,280.13 248.60,280.65C249.27,281.07 249.94,281.49 250.61,281.49C251.33,281.49 252.06,279.81 252.78,278.98C253.62,278.03 254.45,276.64 255.29,276.14C256.41,275.46 257.52,275.20 258.64,274.80C259.47,274.50 260.31,274.26 261.15,273.96C261.87,273.70 262.60,273.41 263.32,273.13" stroke="#7dbde6" stroke-width="0.9" fill="none" stroke-linejoin="round" stroke-linecap="butt" stroke-dasharray="1.1 1.0"/>
<path clip-path="url(#cL4)" d="M23.01,272.29C24.80,272.29 26.58,272.29 28.36,272.29C29.76,272.29 31.15,272.16 32.55,271.96C33.38,271.83 34.22,271.22 35.05,270.62C35.89,270.01 36.73,268.95 37.56,267.77C38.40,266.59 39.24,264.71 40.07,263.09C40.91,261.48 41.75,259.41 42.58,258.07C43.42,256.73 44.25,255.47 45.09,254.73C45.93,253.98 46.76,253.51 47.60,253.05C48.44,252.60 49.27,252.21 50.11,251.88C50.95,251.56 51.78,251.26 52.62,251.05C53.45,250.84 54.29,250.79 55.13,250.55C55.68,250.38 56.24,250.10 56.80,249.71C57.36,249.32 57.92,248.15 58.47,247.70C59.03,247.26 59.59,246.70 60.15,246.70C60.59,246.70 61.04,247.70 61.48,248.37C61.87,248.96 62.26,250.55 62.65,250.55C63.04,250.55 63.44,249.71 63.83,249.37C64.27,248.99 64.72,248.37 65.16,248.37C66.00,248.37 66.84,249.18 67.67,249.37C69.07,249.70 70.46,249.80 71.85,250.04C73.53,250.34 75.20,250.88 76.87,251.05C78.55,251.21 80.22,251.27 81.89,251.38C83.56,251.49 85.24,251.53 86.91,251.72C88.02,251.84 89.14,252.36 90.25,252.72C91.37,253.08 92.48,253.47 93.60,253.89C94.72,254.31 95.83,254.89 96.95,255.23C98.06,255.57 99.18,255.91 100.29,256.07C101.41,256.22 102.52,256.40 103.64,256.40C105.77,256.40 107.90,255.03 110.04,254.73C111.71,254.49 113.38,254.23 115.05,254.23C116.17,254.23 117.28,254.28 118.40,254.39C119.24,254.48 120.07,256.73 120.91,256.73C121.47,256.73 122.02,256.26 122.58,256.07C123.14,255.87 123.70,255.56 124.25,255.56C125.09,255.56 125.93,256.68 126.76,256.90C128.44,257.35 130.11,257.58 131.78,257.74C133.45,257.90 135.13,257.98 136.80,258.07C139.03,258.20 141.26,258.23 143.49,258.41C145.16,258.54 146.84,258.84 148.51,259.24C149.62,259.51 150.74,260.03 151.85,260.58C152.97,261.13 154.08,262.34 155.20,262.76C156.04,263.07 156.87,263.43 157.71,263.43C158.55,263.43 159.38,262.79 160.22,262.25C161.05,261.72 161.89,260.79 162.73,259.75C163.56,258.70 164.40,256.96 165.24,255.56C166.07,254.17 166.91,252.55 167.75,251.38C168.58,250.21 169.42,248.97 170.25,248.37C171.37,247.57 172.48,247.16 173.60,246.70C174.72,246.24 175.83,245.92 176.95,245.53C178.06,245.14 179.18,244.54 180.29,244.36C181.87,244.09 183.45,243.85 185.04,243.85C185.87,243.85 186.71,244.73 187.55,245.53C188.10,246.06 188.66,247.45 189.22,248.04C189.78,248.62 190.33,249.21 190.89,249.37C192.28,249.79 193.68,249.97 195.07,250.04C196.75,250.14 198.42,250.14 200.09,250.21C201.76,250.29 203.44,250.36 205.11,250.55C206.22,250.67 207.34,250.92 208.45,251.38C209.29,251.73 210.13,252.85 210.96,253.89C211.80,254.94 212.64,256.68 213.47,258.07C214.31,259.47 215.15,261.21 215.98,262.25C216.82,263.30 217.65,264.53 218.49,264.76C219.16,264.95 219.83,265.10 220.50,265.10C221.22,265.10 221.95,264.00 222.67,263.09C223.51,262.04 224.35,259.87 225.18,258.07C226.02,256.27 226.85,253.84 227.69,252.22C228.53,250.59 229.36,248.94 230.20,248.04C231.04,247.13 231.87,246.03 232.71,246.03C233.55,246.03 234.38,246.32 235.22,246.70C236.05,247.08 236.89,249.11 237.73,250.55C238.45,251.79 239.18,254.01 239.90,254.73C240.29,255.12 240.68,255.56 241.07,255.56C241.63,255.56 242.19,253.64 242.75,253.39C243.14,253.21 243.53,253.05 243.92,253.05C244.36,253.05 244.81,254.05 245.25,254.73C245.81,255.58 246.37,257.06 246.93,258.07C247.60,259.29 248.27,261.42 248.93,261.42C249.49,261.42 250.05,260.99 250.61,260.58C251.33,260.05 252.06,258.48 252.78,257.24C253.51,256.00 254.23,254.14 254.96,253.05C255.74,251.89 256.52,250.66 257.30,250.21C258.02,249.79 258.75,249.37 259.47,249.37C260.20,249.37 260.92,250.04 261.65,250.04C262.20,250.04 262.76,249.60 263.32,249.37" stroke="#ee9878" stroke-width="1.0" fill="none" stroke-linejoin="round" stroke-linecap="butt"/>
<rect x="23.25" y="244.40" width="240.20" height="44.20" stroke="#d0d0d0" stroke-width="1" fill="none"/>
<path d="M23.25 288.60v-2.2M23.25 244.40v2.2M60.78 288.60v-2.2M60.78 244.40v2.2M98.31 288.60v-2.2M98.31 244.40v2.2M135.84 288.60v-2.2M135.84 244.40v2.2M173.38 288.60v-2.2M173.38 244.40v2.2M210.91 288.60v-2.2M210.91 244.40v2.2M248.44 288.60v-2.2M248.44 244.40v2.2M23.25 288.60h2.2M263.45 288.60h-2.2M23.25 266.50h2.2M263.45 266.50h-2.2M23.25 244.40h2.2M263.45 244.40h-2.2" stroke="#d0d0d0" stroke-width="0.7" fill="none"/>
<text x="23.25" y="297.10" font-size="6.4" text-anchor="middle">0</text>
<text x="60.78" y="297.10" font-size="6.4" text-anchor="middle">50</text>
<text x="98.31" y="297.10" font-size="6.4" text-anchor="middle">100</text>
<text x="135.84" y="297.10" font-size="6.4" text-anchor="middle">150</text>
<text x="173.38" y="297.10" font-size="6.4" text-anchor="middle">200</text>
<text x="210.91" y="297.10" font-size="6.4" text-anchor="middle">250</text>
<text x="248.44" y="297.10" font-size="6.4" text-anchor="middle">300</text>
<text x="21.45" y="291.20" font-size="6.4" text-anchor="end">0.1</text>
<text x="21.45" y="269.10" font-size="6.4" text-anchor="end">0.2</text>
<text x="21.45" y="247.00" font-size="6.4" text-anchor="end">0.3</text>
<text x="143.35" y="306.10" font-size="7.25" text-anchor="middle">Step</text>
<text transform="translate(6.75 266.80) rotate(-90)" font-size="7.4" text-anchor="middle">u<tspan font-size="6" dy="3.7">2</tspan></text>
<rect x="57.10" y="257.70" width="62.40" height="14.20" fill="#fff" stroke="#d0d0d0" stroke-width="0.7"/>
<path d="M57.70 261.60h5.6" stroke="#7dbde6" stroke-width="0.9" stroke-dasharray="1.1 1.0"/>
<path d="M58.30 268.60h5.2" stroke="#ee9878" stroke-width="0.9"/>
<text x="64.80" y="263.50" font-size="5.4">Initial Parameters</text>
<text x="64.80" y="270.50" font-size="5.4">Optimized Parameters</text>
<path d="M60.78 329.40V374.20M98.31 329.40V374.20M135.84 329.40V374.20M173.38 329.40V374.20M210.91 329.40V374.20M248.44 329.40V374.20M23.25 369.76H263.45M23.25 349.58H263.45" stroke="#f1f1f1" stroke-width="0.6" fill="none"/>
<clipPath id="cL5"><rect x="23.25" y="329.40" width="240.20" height="44.80"/></clipPath>
<path clip-path="url(#cL5)" d="M23.01,369.67C24.24,369.39 25.46,369.19 26.69,368.84C27.81,368.51 28.92,367.99 30.04,367.50C31.15,367.00 32.27,366.43 33.38,365.83C34.50,365.22 35.61,364.49 36.73,363.82C37.84,363.15 38.96,362.58 40.07,361.81C41.19,361.05 42.30,360.05 43.42,359.13C44.53,358.22 45.65,357.18 46.76,356.29C47.88,355.40 48.99,354.45 50.11,353.78C51.22,353.11 52.34,352.55 53.45,352.11C54.29,351.78 55.13,351.75 55.96,351.27C56.52,350.96 57.08,349.51 57.64,348.76C58.19,348.02 58.75,346.76 59.31,346.76C59.59,346.76 59.87,349.02 60.15,350.44C60.42,351.85 60.70,354.62 60.98,355.45C61.26,356.29 61.54,357.13 61.82,357.13C62.26,357.13 62.71,356.74 63.16,356.29C63.55,355.90 63.94,353.45 64.33,353.45C64.88,353.45 65.44,353.62 66.00,353.78C66.84,354.03 67.67,355.45 68.51,355.45C69.35,355.45 70.18,355.45 71.02,355.45C71.85,355.45 72.69,354.95 73.53,354.62C74.64,354.18 75.76,353.44 76.87,352.95C77.99,352.45 79.10,351.90 80.22,351.61C81.33,351.31 82.45,350.94 83.56,350.94C84.68,350.94 85.79,351.27 86.91,351.61C88.02,351.95 89.14,352.87 90.25,353.78C91.37,354.69 92.48,356.29 93.60,357.46C94.72,358.63 95.83,360.06 96.95,360.81C98.06,361.55 99.18,362.41 100.29,362.48C101.96,362.59 103.64,362.65 105.31,362.65C106.88,362.65 108.46,362.15 110.04,362.15C111.71,362.15 113.38,362.15 115.05,362.15C116.28,362.15 117.51,362.15 118.73,362.15C119.18,362.15 119.63,364.74 120.07,366.33C120.52,367.91 120.96,370.78 121.41,371.85C121.80,372.78 122.19,373.85 122.58,373.85C123.14,373.85 123.70,372.41 124.25,371.85C125.09,371.00 125.93,370.21 126.76,369.67C127.88,368.96 128.99,368.63 130.11,368.00C131.22,367.37 132.34,366.17 133.45,365.83C134.57,365.48 135.68,365.16 136.80,365.16C138.47,365.16 140.15,365.16 141.82,365.16C143.49,365.16 145.16,365.51 146.84,365.83C147.95,366.04 149.07,366.56 150.18,366.83C151.30,367.10 152.41,367.50 153.53,367.50C154.64,367.50 155.76,366.47 156.87,365.99C157.99,365.52 159.10,365.19 160.22,364.65C161.33,364.12 162.45,363.45 163.56,362.65C164.68,361.84 165.79,360.96 166.91,359.64C167.75,358.64 168.58,356.62 169.42,355.45C170.25,354.29 171.09,352.74 171.93,352.44C173.04,352.05 174.16,352.15 175.27,351.77C176.11,351.49 176.95,350.81 177.78,349.60C178.34,348.79 178.90,346.42 179.45,343.75C179.84,341.87 180.24,337.66 180.63,335.38C180.90,333.76 181.18,331.20 181.46,331.20C181.74,331.20 182.02,335.67 182.30,338.73C182.58,341.78 182.86,347.45 183.13,350.44C183.32,352.45 183.51,354.50 183.70,355.45C184.03,357.15 184.37,358.80 184.70,358.80C184.92,358.80 185.15,353.90 185.37,353.78C185.82,353.54 186.26,353.45 186.71,353.45C187.82,353.45 188.94,354.62 190.05,354.62C191.17,354.62 192.28,354.62 193.40,354.62C194.52,354.62 195.63,353.40 196.75,352.95C197.86,352.49 198.98,352.01 200.09,351.77C201.21,351.54 202.32,351.27 203.44,351.27C204.27,351.27 205.11,351.69 205.95,352.11C206.78,352.53 207.62,353.57 208.45,354.62C209.29,355.66 210.13,357.75 210.96,358.80C211.80,359.85 212.64,360.64 213.47,361.31C214.31,361.98 215.15,362.98 215.98,362.98C217.10,362.98 218.21,362.15 219.33,362.15C220.44,362.15 221.56,362.15 222.67,362.15C223.79,362.15 224.90,362.03 226.02,361.81C226.85,361.65 227.69,359.59 228.53,357.96C229.36,356.34 230.20,353.22 231.04,351.27C231.76,349.59 232.49,347.08 233.21,346.76C233.88,346.46 234.55,346.25 235.22,346.25C235.78,346.25 236.33,347.55 236.89,348.76C237.45,349.98 238.01,353.37 238.56,355.45C239.12,357.54 239.68,359.89 240.24,361.31C240.79,362.73 241.35,364.65 241.91,364.65C243.02,364.65 244.14,364.65 245.25,364.65C246.37,364.65 247.48,363.72 248.60,363.48C249.72,363.25 250.83,362.98 251.95,362.98C253.06,362.98 254.18,363.27 255.29,363.48C256.13,363.65 256.96,364.15 257.80,364.15C258.36,364.15 258.92,363.63 259.47,362.98C260.03,362.33 260.59,359.45 261.15,357.13C261.54,355.50 261.93,353.04 262.32,351.27C262.65,349.76 262.99,348.48 263.32,347.09" stroke="#7dbde6" stroke-width="0.9" fill="none" stroke-linejoin="round" stroke-linecap="butt" stroke-dasharray="1.1 1.0"/>
<path clip-path="url(#cL5)" d="M23.01,369.17C24.24,368.95 25.46,368.81 26.69,368.50C27.81,368.22 28.92,367.70 30.04,367.16C31.15,366.63 32.27,365.85 33.38,365.16C34.50,364.46 35.61,363.53 36.73,362.98C37.84,362.43 38.96,361.94 40.07,361.64C41.19,361.35 42.30,361.22 43.42,360.97C44.53,360.73 45.65,360.44 46.76,360.14C47.88,359.83 48.99,359.40 50.11,359.13C51.22,358.87 52.34,358.57 53.45,358.47C54.29,358.38 55.13,358.40 55.96,358.30C56.52,358.23 57.08,357.66 57.64,357.46C58.03,357.32 58.42,357.13 58.81,357.13C59.14,357.13 59.48,358.75 59.81,359.64C60.20,360.68 60.59,362.26 60.98,362.98C61.26,363.50 61.54,364.15 61.82,364.15C62.26,364.15 62.71,363.71 63.16,363.48C63.83,363.15 64.49,362.78 65.16,362.48C66.00,362.11 66.84,361.70 67.67,361.48C68.51,361.25 69.35,361.16 70.18,360.97C71.30,360.73 72.41,360.51 73.53,360.14C74.64,359.77 75.76,358.96 76.87,358.47C77.99,357.97 79.10,357.47 80.22,357.13C81.33,356.78 82.45,356.29 83.56,356.29C84.40,356.29 85.24,356.45 86.07,356.63C86.91,356.80 87.75,357.45 88.58,357.96C89.70,358.65 90.81,359.64 91.93,360.47C93.04,361.31 94.16,362.24 95.27,362.98C96.39,363.73 97.50,364.60 98.62,364.99C99.73,365.38 100.85,365.70 101.96,365.83C104.65,366.12 107.35,366.33 110.04,366.33C111.71,366.33 113.38,366.33 115.05,366.33C116.28,366.33 117.51,365.49 118.73,365.49C119.18,365.49 119.63,366.95 120.07,368.00C120.52,369.05 120.96,371.20 121.41,372.18C121.80,373.04 122.19,374.19 122.58,374.19C123.14,374.19 123.70,372.67 124.25,372.18C125.09,371.45 125.93,370.90 126.76,370.51C127.88,369.99 128.99,369.75 130.11,369.34C131.22,368.92 132.34,368.42 133.45,368.00C134.57,367.58 135.68,367.01 136.80,366.83C138.47,366.56 140.15,366.33 141.82,366.33C143.49,366.33 145.16,366.66 146.84,366.83C147.95,366.94 149.07,367.05 150.18,367.16C151.30,367.28 152.41,367.50 153.53,367.50C154.64,367.50 155.76,366.72 156.87,366.33C157.99,365.94 159.10,365.62 160.22,365.16C161.33,364.70 162.45,364.04 163.56,363.48C164.68,362.93 165.79,362.44 166.91,361.81C168.02,361.18 169.14,360.14 170.25,359.64C171.37,359.13 172.48,358.97 173.60,358.47C174.72,357.96 175.83,357.17 176.95,356.29C178.06,355.41 179.18,354.37 180.29,352.95C180.96,352.09 181.63,349.60 182.30,349.60C183.04,349.60 183.79,352.00 184.53,354.62C184.81,355.60 185.09,358.26 185.37,359.64C185.71,361.29 186.04,363.82 186.37,363.82C186.65,363.82 186.93,363.35 187.21,362.98C187.60,362.46 187.99,360.94 188.38,360.47C188.94,359.81 189.50,359.31 190.05,359.13C190.61,358.96 191.17,358.95 191.73,358.80C192.84,358.50 193.96,357.68 195.07,357.13C196.19,356.57 197.30,355.83 198.42,355.45C199.53,355.08 200.65,354.62 201.76,354.62C202.88,354.62 203.99,354.62 205.11,354.62C205.95,354.62 206.78,355.04 207.62,355.45C208.45,355.87 209.29,357.07 210.13,357.96C210.96,358.85 211.80,360.11 212.64,360.81C213.47,361.51 214.31,362.48 215.15,362.48C216.26,362.48 217.38,362.48 218.49,362.48C219.61,362.48 220.72,362.15 221.84,362.15C222.95,362.15 224.07,362.15 225.18,362.15C226.30,362.15 227.41,361.03 228.53,360.47C229.64,359.92 230.76,359.03 231.87,358.80C232.71,358.63 233.55,358.47 234.38,358.47C235.22,358.47 236.05,359.10 236.89,359.64C237.73,360.17 238.56,361.31 239.40,362.15C240.24,362.98 241.07,364.38 241.91,364.65C242.75,364.93 243.58,365.16 244.42,365.16C245.25,365.16 246.09,364.18 246.93,363.82C248.04,363.34 249.16,362.65 250.27,362.65C251.39,362.65 252.50,363.20 253.62,363.48C254.73,363.76 255.85,364.08 256.96,364.32C257.52,364.44 258.08,364.65 258.64,364.65C259.47,364.65 260.31,363.25 261.15,362.15C261.87,361.18 262.60,359.36 263.32,357.96" stroke="#ee9878" stroke-width="1.0" fill="none" stroke-linejoin="round" stroke-linecap="butt"/>
<rect x="23.25" y="329.40" width="240.20" height="44.80" stroke="#d0d0d0" stroke-width="1" fill="none"/>
<path d="M23.25 374.20v-2.2M23.25 329.40v2.2M60.78 374.20v-2.2M60.78 329.40v2.2M98.31 374.20v-2.2M98.31 329.40v2.2M135.84 374.20v-2.2M135.84 329.40v2.2M173.38 374.20v-2.2M173.38 329.40v2.2M210.91 374.20v-2.2M210.91 329.40v2.2M248.44 374.20v-2.2M248.44 329.40v2.2M23.25 369.76h2.2M263.45 369.76h-2.2M23.25 349.58h2.2M263.45 349.58h-2.2M23.25 329.40h2.2M263.45 329.40h-2.2" stroke="#d0d0d0" stroke-width="0.7" fill="none"/>
<text x="23.25" y="382.70" font-size="6.4" text-anchor="middle">0</text>
<text x="60.78" y="382.70" font-size="6.4" text-anchor="middle">50</text>
<text x="98.31" y="382.70" font-size="6.4" text-anchor="middle">100</text>
<text x="135.84" y="382.70" font-size="6.4" text-anchor="middle">150</text>
<text x="173.38" y="382.70" font-size="6.4" text-anchor="middle">200</text>
<text x="210.91" y="382.70" font-size="6.4" text-anchor="middle">250</text>
<text x="248.44" y="382.70" font-size="6.4" text-anchor="middle">300</text>
<text x="21.45" y="372.36" font-size="6.4" text-anchor="end">4</text>
<text x="21.45" y="352.18" font-size="6.4" text-anchor="end">6</text>
<text x="21.45" y="332.00" font-size="6.4" text-anchor="end">8</text>
<text x="143.35" y="391.70" font-size="7.25" text-anchor="middle">Step</text>
<text transform="translate(12.15 352.10) rotate(-90)" font-size="7.4" text-anchor="middle">u<tspan font-size="6" dy="3.7">1</tspan></text>
<rect x="74.40" y="328.80" width="62.20" height="14.20" fill="#fff" stroke="#d0d0d0" stroke-width="0.7"/>
<path d="M75.00 332.70h5.6" stroke="#7dbde6" stroke-width="0.9" stroke-dasharray="1.1 1.0"/>
<path d="M75.60 339.70h5.2" stroke="#ee9878" stroke-width="0.9"/>
<text x="82.10" y="334.60" font-size="5.4">Initial Parameters</text>
<text x="82.10" y="341.60" font-size="5.4">Optimized Parameters</text>
<path d="M60.78 400.90V445.50M98.31 400.90V445.50M135.84 400.90V445.50M173.38 400.90V445.50M210.91 400.90V445.50M248.44 400.90V445.50M23.25 424.56H263.45M23.25 403.62H263.45" stroke="#f1f1f1" stroke-width="0.6" fill="none"/>
<clipPath id="cL6"><rect x="23.25" y="400.90" width="240.20" height="44.60"/></clipPath>
<path clip-path="url(#cL6)" d="M23.01,444.87C24.80,444.87 26.58,444.87 28.36,444.87C29.76,444.87 31.15,444.87 32.55,444.87C33.38,444.87 34.22,443.91 35.05,443.19C35.89,442.48 36.73,441.24 37.56,440.18C38.40,439.13 39.24,437.89 40.07,436.84C40.91,435.78 41.75,434.63 42.58,433.83C43.42,433.02 44.25,432.35 45.09,431.82C45.93,431.28 46.76,430.78 47.60,430.48C48.44,430.18 49.27,429.88 50.11,429.81C51.22,429.71 52.34,429.64 53.45,429.64C54.29,429.64 55.13,430.14 55.96,430.48C56.80,430.82 57.64,431.64 58.47,431.82C59.31,432.00 60.15,432.15 60.98,432.15C61.82,432.15 62.65,431.61 63.49,431.48C65.16,431.23 66.84,430.98 68.51,430.98C70.18,430.98 71.85,430.98 73.53,430.98C75.20,430.98 76.87,430.98 78.55,430.98C80.22,430.98 81.89,430.98 83.56,430.98C85.24,430.98 86.91,430.98 88.58,430.98C89.70,430.98 90.81,430.98 91.93,430.98C93.04,430.98 94.16,431.69 95.27,432.15C96.39,432.61 97.50,433.41 98.62,433.83C99.73,434.24 100.85,434.74 101.96,434.83C104.65,435.05 107.35,435.16 110.04,435.16C111.71,435.16 113.38,434.67 115.05,434.33C116.17,434.10 117.28,433.49 118.40,433.49C118.96,433.49 119.52,434.05 120.07,434.33C120.63,434.61 121.19,435.16 121.75,435.16C122.30,435.16 122.86,434.33 123.42,434.33C124.53,434.33 125.65,434.94 126.76,435.16C128.44,435.50 130.11,435.79 131.78,436.00C133.45,436.21 135.13,436.50 136.80,436.50C138.47,436.50 140.15,436.23 141.82,436.00C143.21,435.81 144.61,435.16 146.00,435.16C146.84,435.16 147.67,435.32 148.51,435.50C149.35,435.68 150.18,436.25 151.02,436.84C151.85,437.42 152.69,438.57 153.53,439.35C154.36,440.12 155.20,441.07 156.04,441.52C156.59,441.82 157.15,442.19 157.71,442.19C158.55,442.19 159.38,441.60 160.22,441.02C161.05,440.44 161.89,438.79 162.73,437.67C163.56,436.56 164.40,435.28 165.24,434.33C166.07,433.37 166.91,432.24 167.75,431.82C168.58,431.40 169.42,430.98 170.25,430.98C171.37,430.98 172.48,430.98 173.60,430.98C174.44,430.98 175.27,430.81 176.11,430.65C176.67,430.54 177.22,430.15 177.78,430.15C178.34,430.15 178.90,430.15 179.45,430.15C180.01,430.15 180.57,431.05 181.13,431.82C181.41,432.20 181.68,433.49 181.96,433.49C182.99,433.49 184.01,431.74 185.04,431.48C186.15,431.21 187.27,430.98 188.38,430.98C190.05,430.98 191.73,430.98 193.40,430.98C195.07,430.98 196.75,430.98 198.42,430.98C200.09,430.98 201.76,430.98 203.44,430.98C205.11,430.98 206.78,430.98 208.45,430.98C209.29,430.98 210.13,431.91 210.96,432.65C211.80,433.40 212.64,434.81 213.47,436.00C214.31,437.19 215.15,438.76 215.98,439.85C216.82,440.94 217.65,442.36 218.49,442.69C219.16,442.96 219.83,443.19 220.50,443.19C221.22,443.19 221.95,442.50 222.67,441.85C223.51,441.11 224.35,439.01 225.18,437.67C226.02,436.34 226.85,434.70 227.69,433.83C228.53,432.95 229.36,431.82 230.20,431.82C231.32,431.82 232.43,431.99 233.55,432.15C234.66,432.32 235.78,432.69 236.89,433.16C237.73,433.51 238.56,434.27 239.40,434.83C240.24,435.39 241.07,436.50 241.91,436.50C242.75,436.50 243.58,434.33 244.42,434.33C245.25,434.33 246.09,435.37 246.93,436.00C247.76,436.63 248.60,437.80 249.44,438.17C250.16,438.50 250.89,438.84 251.61,438.84C252.28,438.84 252.95,438.09 253.62,437.67C254.45,437.15 255.29,436.46 256.13,436.00C256.96,435.54 257.80,435.33 258.64,434.83C259.31,434.42 259.97,433.79 260.64,433.16C261.54,432.31 262.43,431.15 263.32,430.15" stroke="#7dbde6" stroke-width="0.9" fill="none" stroke-linejoin="round" stroke-linecap="butt" stroke-dasharray="1.1 1.0"/>
<path clip-path="url(#cL6)" d="M23.01,429.31C24.80,429.31 26.58,429.31 28.36,429.31C29.76,429.31 31.15,429.31 32.55,429.31C33.38,429.31 34.22,428.43 35.05,427.64C35.89,426.84 36.73,425.08 37.56,423.45C38.40,421.83 39.24,419.55 40.07,417.60C40.91,415.65 41.75,413.25 42.58,411.75C43.42,410.24 44.25,408.98 45.09,408.07C45.93,407.15 46.76,406.29 47.60,405.89C48.44,405.49 49.27,405.19 50.11,405.05C51.22,404.88 52.34,404.72 53.45,404.72C54.29,404.72 55.13,404.72 55.96,404.72C56.52,404.72 57.08,404.22 57.64,404.22C58.03,404.22 58.42,405.39 58.81,405.89C59.14,406.32 59.48,407.06 59.81,407.06C60.20,407.06 60.59,406.16 60.98,405.89C61.54,405.51 62.10,405.05 62.65,405.05C63.49,405.05 64.33,405.25 65.16,405.39C66.28,405.58 67.39,406.06 68.51,406.23C70.18,406.47 71.85,406.73 73.53,406.73C75.20,406.73 76.87,406.73 78.55,406.73C80.22,406.73 81.89,406.42 83.56,406.23C85.24,406.03 86.91,405.56 88.58,405.56C89.70,405.56 90.81,406.02 91.93,406.39C93.04,406.76 94.16,407.46 95.27,408.07C96.39,408.67 97.50,409.58 98.62,410.07C99.73,410.57 100.85,411.15 101.96,411.24C103.08,411.34 104.19,411.41 105.31,411.41C106.88,411.41 108.46,411.41 110.04,411.41C111.71,411.41 113.38,411.11 115.05,410.91C116.17,410.77 117.28,410.41 118.40,410.41C119.24,410.41 120.07,411.31 120.91,411.75C121.47,412.03 122.02,412.58 122.58,412.58C123.14,412.58 123.70,410.91 124.25,410.91C124.81,410.91 125.37,411.79 125.93,412.08C126.76,412.51 127.60,412.86 128.44,413.08C129.55,413.39 130.67,413.56 131.78,413.75C132.90,413.94 134.01,414.25 135.13,414.25C135.96,414.25 136.80,413.74 137.64,413.42C138.47,413.09 139.31,412.52 140.15,412.25C141.26,411.88 142.38,411.41 143.49,411.41C144.33,411.41 145.16,411.41 146.00,411.41C146.84,411.41 147.67,412.05 148.51,412.58C149.35,413.11 150.18,414.25 151.02,415.09C151.85,415.93 152.69,416.82 153.53,417.60C154.36,418.38 155.20,419.33 156.04,419.77C156.59,420.07 157.15,420.44 157.71,420.44C158.55,420.44 159.38,419.80 160.22,419.27C161.05,418.74 161.89,417.81 162.73,416.76C163.56,415.72 164.40,413.82 165.24,412.58C166.07,411.34 166.91,410.19 167.75,409.24C168.58,408.28 169.42,407.22 170.25,406.73C171.37,406.08 172.48,405.74 173.60,405.39C174.44,405.12 175.27,405.09 176.11,404.72C176.67,404.48 177.22,403.60 177.78,403.05C178.34,402.49 178.90,401.75 179.45,401.37C180.01,401.00 180.57,400.54 181.13,400.54C181.68,400.54 182.24,400.67 182.80,400.87C183.27,401.04 183.73,402.54 184.20,403.38C184.76,404.38 185.32,406.39 185.87,406.39C186.43,406.39 186.99,405.05 187.55,405.05C188.38,405.05 189.22,405.89 190.05,405.89C191.73,405.89 193.40,405.89 195.07,405.89C196.75,405.89 198.42,405.56 200.09,405.56C201.76,405.56 203.44,405.56 205.11,405.56C206.22,405.56 207.34,405.68 208.45,405.89C209.29,406.05 210.13,407.28 210.96,408.40C211.80,409.52 212.64,411.80 213.47,413.42C214.31,415.03 215.15,416.92 215.98,418.10C216.82,419.28 217.65,420.44 218.49,420.95C219.16,421.35 219.83,421.78 220.50,421.78C221.22,421.78 221.95,421.07 222.67,420.44C223.51,419.73 224.35,418.27 225.18,416.76C226.02,415.26 226.85,412.54 227.69,410.91C228.53,409.28 229.36,407.40 230.20,406.73C231.04,406.05 231.87,405.39 232.71,405.39C233.43,405.39 234.16,405.61 234.88,405.89C235.55,406.15 236.22,407.28 236.89,408.40C237.56,409.52 238.23,412.63 238.90,413.42C239.62,414.28 240.35,415.09 241.07,415.09C241.80,415.09 242.52,414.25 243.25,414.25C243.92,414.25 244.59,414.70 245.25,415.09C246.09,415.58 246.93,416.87 247.76,417.60C248.49,418.23 249.21,419.27 249.94,419.27C250.61,419.27 251.28,419.04 251.95,418.77C252.61,418.50 253.28,417.48 253.95,416.76C254.68,415.99 255.40,414.79 256.13,414.25C256.85,413.72 257.58,413.61 258.30,413.08C258.97,412.60 259.64,411.86 260.31,410.91C260.87,410.12 261.42,408.93 261.98,407.56C262.43,406.47 262.87,404.78 263.32,403.38" stroke="#ee9878" stroke-width="1.0" fill="none" stroke-linejoin="round" stroke-linecap="butt"/>
<rect x="23.25" y="400.90" width="240.20" height="44.60" stroke="#d0d0d0" stroke-width="1" fill="none"/>
<path d="M23.25 445.50v-2.2M23.25 400.90v2.2M60.78 445.50v-2.2M60.78 400.90v2.2M98.31 445.50v-2.2M98.31 400.90v2.2M135.84 445.50v-2.2M135.84 400.90v2.2M173.38 445.50v-2.2M173.38 400.90v2.2M210.91 445.50v-2.2M210.91 400.90v2.2M248.44 445.50v-2.2M248.44 400.90v2.2M23.25 445.50h2.2M263.45 445.50h-2.2M23.25 424.56h2.2M263.45 424.56h-2.2M23.25 403.62h2.2M263.45 403.62h-2.2" stroke="#d0d0d0" stroke-width="0.7" fill="none"/>
<text x="23.25" y="454.00" font-size="6.4" text-anchor="middle">0</text>
<text x="60.78" y="454.00" font-size="6.4" text-anchor="middle">50</text>
<text x="98.31" y="454.00" font-size="6.4" text-anchor="middle">100</text>
<text x="135.84" y="454.00" font-size="6.4" text-anchor="middle">150</text>
<text x="173.38" y="454.00" font-size="6.4" text-anchor="middle">200</text>
<text x="210.91" y="454.00" font-size="6.4" text-anchor="middle">250</text>
<text x="248.44" y="454.00" font-size="6.4" text-anchor="middle">300</text>
<text x="21.45" y="448.10" font-size="6.4" text-anchor="end">0.1</text>
<text x="21.45" y="427.16" font-size="6.4" text-anchor="end">0.2</text>
<text x="21.45" y="406.22" font-size="6.4" text-anchor="end">0.3</text>
<text x="143.35" y="463.00" font-size="7.25" text-anchor="middle">Step</text>
<text transform="translate(6.75 423.50) rotate(-90)" font-size="7.4" text-anchor="middle">u<tspan font-size="6" dy="3.7">2</tspan></text>
<rect x="74.90" y="413.70" width="62.40" height="14.20" fill="#fff" stroke="#d0d0d0" stroke-width="0.7"/>
<path d="M75.50 417.60h5.6" stroke="#7dbde6" stroke-width="0.9" stroke-dasharray="1.1 1.0"/>
<path d="M76.10 424.60h5.2" stroke="#ee9878" stroke-width="0.9"/>
<text x="82.60" y="419.50" font-size="5.4">Initial Parameters</text>
<text x="82.60" y="426.50" font-size="5.4">Optimized Parameters</text>
<path d="M344.99 16.50V61.00M382.48 16.50V61.00M419.98 16.50V61.00M457.47 16.50V61.00M494.96 16.50V61.00M532.45 16.50V61.00M307.50 38.75H547.45" stroke="#f1f1f1" stroke-width="0.6" fill="none"/>
<clipPath id="cR1"><rect x="307.50" y="16.50" width="239.95" height="44.50"/></clipPath>
<path clip-path="url(#cR1)" d="M307.35,36.92C308.46,36.69 309.58,36.54 310.69,36.25C311.81,35.95 312.92,35.49 314.04,34.91C315.15,34.33 316.27,33.30 317.38,32.40C318.22,31.73 319.05,30.82 319.89,30.23C320.73,29.63 321.56,28.97 322.40,28.72C323.24,28.47 324.07,28.22 324.91,28.22C325.47,28.22 326.02,28.83 326.58,29.39C327.14,29.95 327.70,31.23 328.25,32.40C328.81,33.57 329.37,35.19 329.93,36.58C330.48,37.98 331.04,39.52 331.60,40.76C332.16,42.00 332.72,43.35 333.27,44.11C334.11,45.25 334.95,46.04 335.78,46.62C336.62,47.20 337.45,47.72 338.29,47.96C338.85,48.11 339.41,48.13 339.96,48.29C340.52,48.45 341.08,48.71 341.64,49.13C342.19,49.55 342.75,51.64 343.31,51.64C343.59,51.64 343.87,50.13 344.15,49.46C344.70,48.12 345.26,45.99 345.82,45.78C346.38,45.58 346.93,45.45 347.49,45.45C348.33,45.45 349.16,45.90 350.00,46.12C351.39,46.47 352.79,46.79 354.18,47.12C355.85,47.52 357.53,47.97 359.20,48.29C360.87,48.62 362.55,48.97 364.22,49.13C365.89,49.29 367.56,49.46 369.24,49.46C370.91,49.46 372.58,49.46 374.25,49.46C375.93,49.46 377.60,49.46 379.27,49.46C380.39,49.46 381.50,49.46 382.62,49.46C383.73,49.46 384.85,49.29 385.96,49.13C387.08,48.97 388.19,48.80 389.31,48.29C389.77,48.08 390.23,46.83 390.69,46.62C391.81,46.11 392.92,45.94 394.04,45.78C395.15,45.62 396.27,45.45 397.38,45.45C398.22,45.45 399.05,45.45 399.89,45.45C400.45,45.45 401.01,46.29 401.56,46.62C402.12,46.94 402.68,47.45 403.24,47.45C403.79,47.45 404.35,46.99 404.91,46.62C405.47,46.25 406.02,44.95 406.58,44.95C407.42,44.95 408.25,45.59 409.09,45.78C410.76,46.17 412.44,46.44 414.11,46.62C416.34,46.85 418.57,46.99 420.80,47.12C423.03,47.25 425.26,47.45 427.49,47.45C429.72,47.45 431.95,47.45 434.18,47.45C435.30,47.45 436.41,47.92 437.53,48.29C438.64,48.66 439.76,49.96 440.87,49.96C441.71,49.96 442.55,49.16 443.38,48.29C444.22,47.42 445.05,44.90 445.89,42.44C446.73,39.97 447.56,36.14 448.40,32.40C448.96,29.90 449.52,25.51 450.07,24.04C450.63,22.56 451.19,21.03 451.75,21.03C452.30,21.03 452.86,22.49 453.42,24.04C453.98,25.58 454.53,31.03 455.09,34.07C455.65,37.11 456.21,40.84 456.76,42.44C457.32,44.03 457.88,45.21 458.44,45.78C459.27,46.65 460.11,46.78 460.95,47.45C461.50,47.91 462.06,49.13 462.62,49.13C463.18,49.13 463.73,48.12 464.29,47.45C464.85,46.79 465.41,44.95 465.96,44.95C466.93,44.95 467.90,45.77 468.87,46.12C470.27,46.62 471.66,47.05 473.05,47.45C474.73,47.94 476.40,48.45 478.07,48.79C479.75,49.14 481.42,49.47 483.09,49.63C484.76,49.79 486.44,49.96 488.11,49.96C489.78,49.96 491.45,49.96 493.13,49.96C494.52,49.96 495.92,49.58 497.31,49.13C498.42,48.77 499.54,47.79 500.65,46.62C501.49,45.74 502.33,44.15 503.16,42.44C504.00,40.72 504.84,37.99 505.67,35.75C506.40,33.80 507.12,31.12 507.85,29.89C508.52,28.75 509.19,27.38 509.85,27.38C510.52,27.38 511.19,29.29 511.86,30.73C512.59,32.29 513.31,35.65 514.04,37.42C514.87,39.46 515.71,41.60 516.55,42.44C517.38,43.27 518.22,44.11 519.05,44.11C519.89,44.11 520.73,43.27 521.56,42.44C522.23,41.77 522.90,39.16 523.57,38.76C524.02,38.49 524.46,38.25 524.91,38.25C525.47,38.25 526.02,41.04 526.58,42.44C527.14,43.83 527.70,45.73 528.25,46.62C529.09,47.96 529.93,48.97 530.76,49.46C531.60,49.96 532.44,50.47 533.27,50.47C534.39,50.47 535.50,50.17 536.62,49.96C537.73,49.75 538.85,49.13 539.96,49.13C541.08,49.13 542.19,49.31 543.31,49.46C544.15,49.58 544.98,49.96 545.82,49.96C546.38,49.96 546.93,49.96 547.49,49.96" stroke="#7dbde6" stroke-width="0.9" fill="none" stroke-linejoin="round" stroke-linecap="butt" stroke-dasharray="1.1 1.0"/>
<path clip-path="url(#cR1)" d="M307.35,36.58C308.46,36.47 309.58,36.41 310.69,36.25C311.81,36.08 312.92,35.69 314.04,35.24C315.15,34.80 316.27,33.94 317.38,33.24C318.22,32.71 319.05,31.97 319.89,31.56C320.62,31.21 321.34,30.73 322.07,30.73C322.73,30.73 323.40,31.42 324.07,32.07C324.63,32.61 325.19,33.78 325.75,34.91C326.30,36.04 326.86,37.57 327.42,39.09C327.98,40.61 328.53,42.59 329.09,44.11C329.65,45.63 330.21,47.44 330.76,48.29C331.43,49.31 332.10,50.47 332.77,50.47C333.33,50.47 333.89,50.20 334.44,49.96C335.17,49.66 335.89,48.88 336.62,48.29C337.45,47.61 338.29,46.12 339.13,46.12C339.68,46.12 340.24,46.82 340.80,47.45C341.36,48.09 341.92,49.85 342.47,50.80C342.92,51.56 343.36,52.81 343.81,52.81C344.20,52.81 344.59,50.99 344.98,49.96C345.37,48.94 345.76,46.62 346.15,46.62C346.60,46.62 347.04,47.21 347.49,47.45C348.33,47.91 349.16,48.46 350.00,48.63C351.39,48.91 352.79,48.90 354.18,49.13C355.85,49.40 357.53,50.12 359.20,50.47C360.87,50.81 362.55,51.14 364.22,51.30C365.89,51.46 367.56,51.64 369.24,51.64C370.91,51.64 372.58,51.46 374.25,51.30C375.93,51.14 377.60,50.80 379.27,50.47C380.39,50.24 381.50,49.97 382.62,49.63C383.73,49.29 384.85,48.79 385.96,48.29C387.08,47.80 388.19,47.24 389.31,46.62C389.77,46.36 390.23,46.04 390.69,45.78C391.81,45.16 392.92,44.48 394.04,44.11C395.15,43.74 396.27,43.27 397.38,43.27C398.22,43.27 399.05,43.27 399.89,43.27C400.45,43.27 401.01,44.20 401.56,44.95C402.12,45.69 402.68,48.02 403.24,48.29C403.63,48.48 404.02,48.63 404.41,48.63C404.85,48.63 405.30,46.02 405.75,45.78C406.30,45.48 406.86,45.28 407.42,45.28C408.53,45.28 409.65,46.43 410.76,46.62C412.44,46.90 414.11,47.01 415.78,47.12C418.01,47.27 420.24,47.34 422.47,47.45C424.70,47.57 426.93,47.70 429.16,47.79C430.84,47.86 432.51,47.85 434.18,47.96C435.30,48.03 436.41,48.65 437.53,49.13C438.36,49.48 439.20,50.14 440.04,50.47C440.76,50.75 441.49,51.13 442.21,51.13C442.88,51.13 443.55,49.89 444.22,49.13C445.05,48.18 445.89,46.90 446.73,45.78C447.56,44.67 448.40,43.39 449.24,42.44C449.91,41.68 450.57,40.43 451.24,40.43C451.80,40.43 452.36,41.78 452.92,42.44C453.64,43.29 454.37,44.46 455.09,44.95C455.93,45.51 456.76,45.70 457.60,46.12C458.44,46.53 459.27,46.82 460.11,47.45C460.95,48.09 461.78,49.61 462.62,50.80C463.18,51.59 463.73,53.31 464.29,53.31C464.85,53.31 465.41,51.75 465.96,50.80C466.65,49.62 467.35,46.62 468.04,46.62C469.15,46.62 470.27,47.14 471.38,47.45C473.05,47.93 474.73,48.63 476.40,49.13C478.07,49.62 479.75,50.17 481.42,50.47C483.09,50.76 484.76,50.94 486.44,51.13C488.11,51.33 489.78,51.64 491.45,51.64C492.85,51.64 494.24,51.41 495.64,51.13C496.75,50.91 497.87,50.16 498.98,49.46C500.10,48.76 501.21,47.57 502.33,46.62C503.44,45.67 504.56,44.48 505.67,43.77C506.79,43.07 507.90,42.54 509.02,42.10C509.85,41.77 510.69,41.27 511.53,41.27C512.36,41.27 513.20,42.44 514.04,43.27C514.87,44.11 515.71,45.66 516.55,46.62C517.38,47.57 518.22,48.55 519.05,49.13C519.89,49.71 520.73,50.17 521.56,50.47C522.40,50.76 523.24,51.13 524.07,51.13C524.91,51.13 525.75,50.47 526.58,50.47C527.70,50.47 528.81,50.69 529.93,50.80C531.04,50.91 532.16,51.13 533.27,51.13C534.39,51.13 535.50,50.73 536.62,50.47C537.73,50.20 538.85,49.66 539.96,49.46C540.80,49.31 541.64,49.13 542.47,49.13C543.31,49.13 544.15,49.64 544.98,49.96C545.82,50.29 546.65,50.74 547.49,51.13" stroke="#ee9878" stroke-width="1.0" fill="none" stroke-linejoin="round" stroke-linecap="butt"/>
<rect x="307.50" y="16.50" width="239.95" height="44.50" stroke="#d0d0d0" stroke-width="1" fill="none"/>
<path d="M307.50 61.00v-2.2M307.50 16.50v2.2M344.99 61.00v-2.2M344.99 16.50v2.2M382.48 61.00v-2.2M382.48 16.50v2.2M419.98 61.00v-2.2M419.98 16.50v2.2M457.47 61.00v-2.2M457.47 16.50v2.2M494.96 61.00v-2.2M494.96 16.50v2.2M532.45 61.00v-2.2M532.45 16.50v2.2M307.50 61.00h2.2M547.45 61.00h-2.2M307.50 38.75h2.2M547.45 38.75h-2.2M307.50 16.50h2.2M547.45 16.50h-2.2" stroke="#d0d0d0" stroke-width="0.7" fill="none"/>
<text x="307.50" y="69.50" font-size="6.4" text-anchor="middle">0</text>
<text x="344.99" y="69.50" font-size="6.4" text-anchor="middle">50</text>
<text x="382.48" y="69.50" font-size="6.4" text-anchor="middle">100</text>
<text x="419.98" y="69.50" font-size="6.4" text-anchor="middle">150</text>
<text x="457.47" y="69.50" font-size="6.4" text-anchor="middle">200</text>
<text x="494.96" y="69.50" font-size="6.4" text-anchor="middle">250</text>
<text x="532.45" y="69.50" font-size="6.4" text-anchor="middle">300</text>
<text x="305.70" y="63.60" font-size="6.4" text-anchor="end">1</text>
<text x="305.70" y="41.35" font-size="6.4" text-anchor="end">2</text>
<text x="305.70" y="19.10" font-size="6.4" text-anchor="end">3</text>
<text x="427.48" y="78.50" font-size="7.25" text-anchor="middle">Step</text>
<text transform="translate(296.40 39.05) rotate(-90)" font-size="7.4" text-anchor="middle">u<tspan font-size="6" dy="3.7">1</tspan></text>
<rect x="347.40" y="20.50" width="62.40" height="14.20" fill="#fff" stroke="#d0d0d0" stroke-width="0.7"/>
<path d="M348.00 24.40h5.6" stroke="#7dbde6" stroke-width="0.9" stroke-dasharray="1.1 1.0"/>
<path d="M348.60 31.40h5.2" stroke="#ee9878" stroke-width="0.9"/>
<text x="355.10" y="26.30" font-size="5.4">Initial Parameters</text>
<text x="355.10" y="33.30" font-size="5.4">Optimized Parameters</text>
<path d="M344.99 87.60V132.20M382.48 87.60V132.20M419.98 87.60V132.20M457.47 87.60V132.20M494.96 87.60V132.20M532.45 87.60V132.20M307.50 130.22H547.45M307.50 121.02H547.45M307.50 111.81H547.45M307.50 102.60H547.45M307.50 93.40H547.45" stroke="#f1f1f1" stroke-width="0.6" fill="none"/>
<clipPath id="cR2"><rect x="307.50" y="87.60" width="239.95" height="44.60"/></clipPath>
<path clip-path="url(#cR2)" d="M307.35,111.78C308.46,111.89 309.58,111.93 310.69,112.12C311.81,112.30 312.92,113.05 314.04,113.79C315.15,114.53 316.27,115.94 317.38,117.13C318.50,118.33 319.61,119.71 320.73,120.98C321.56,121.94 322.40,123.18 323.24,123.83C323.79,124.25 324.35,124.83 324.91,124.83C325.47,124.83 326.02,124.01 326.58,123.16C327.14,122.30 327.70,119.64 328.25,117.64C329.09,114.63 329.93,110.47 330.76,107.60C331.60,104.73 332.44,101.86 333.27,100.07C334.11,98.28 334.95,96.94 335.78,95.89C336.62,94.85 337.45,93.96 338.29,93.38C339.13,92.80 339.96,92.63 340.80,92.04C341.47,91.57 342.14,90.71 342.81,90.04C343.25,89.59 343.70,88.70 344.15,88.70C344.42,88.70 344.70,92.15 344.98,93.38C345.37,95.11 345.76,97.56 346.15,97.56C346.71,97.56 347.27,97.36 347.83,97.23C348.83,97.00 349.83,96.68 350.84,96.39C351.95,96.07 353.07,95.74 354.18,95.39C355.85,94.86 357.53,94.03 359.20,93.72C360.87,93.40 362.55,93.20 364.22,93.05C365.89,92.90 367.56,92.71 369.24,92.71C370.91,92.71 372.58,93.05 374.25,93.05C375.93,93.05 377.60,93.05 379.27,93.05C380.39,93.05 381.50,93.05 382.62,93.05C383.73,93.05 384.85,93.45 385.96,93.72C387.08,93.98 388.19,94.11 389.31,94.72C389.77,94.97 390.23,96.41 390.69,96.73C391.81,97.49 392.92,97.65 394.04,98.07C395.15,98.48 396.27,99.24 397.38,99.24C398.22,99.24 399.05,98.83 399.89,98.40C400.45,98.11 401.01,97.10 401.56,96.73C402.12,96.36 402.68,95.89 403.24,95.89C403.79,95.89 404.35,97.10 404.91,97.56C405.47,98.02 406.02,98.73 406.58,98.73C407.42,98.73 408.25,98.29 409.09,98.07C410.76,97.62 412.44,96.93 414.11,96.73C416.34,96.46 418.57,96.36 420.80,96.23C423.03,96.09 425.26,96.00 427.49,95.89C429.72,95.78 431.95,95.76 434.18,95.56C435.30,95.46 436.41,94.93 437.53,94.72C438.64,94.51 439.76,94.22 440.87,94.22C441.71,94.22 442.55,95.51 443.38,96.73C444.22,97.94 445.05,100.74 445.89,103.42C446.73,106.09 447.56,109.39 448.40,113.45C448.96,116.17 449.52,120.23 450.07,123.49C450.46,125.77 450.85,129.37 451.24,130.18C451.69,131.11 452.14,131.85 452.58,131.85C453.03,131.85 453.47,130.18 453.92,128.51C454.31,127.05 454.70,123.19 455.09,120.15C455.48,117.10 455.87,112.59 456.26,110.11C456.71,107.28 457.15,104.80 457.60,103.42C458.16,101.69 458.72,100.65 459.27,99.74C459.83,98.83 460.39,98.52 460.95,97.56C461.50,96.61 462.06,94.30 462.62,93.38C463.06,92.65 463.51,91.71 463.96,91.71C464.35,91.71 464.74,94.13 465.13,95.05C465.68,96.38 466.24,98.40 466.80,98.40C466.93,98.40 467.07,98.07 467.20,98.07C468.04,98.07 468.87,98.07 469.71,98.07C470.82,98.07 471.94,97.17 473.05,96.73C474.73,96.06 476.40,95.26 478.07,94.72C479.75,94.18 481.42,93.56 483.09,93.38C484.76,93.20 486.44,93.05 488.11,93.05C489.78,93.05 491.45,93.05 493.13,93.05C494.52,93.05 495.92,93.17 497.31,93.38C498.42,93.55 499.54,95.14 500.65,96.73C501.49,97.92 502.33,100.24 503.16,102.58C503.89,104.61 504.61,107.44 505.34,110.11C506.12,112.98 506.90,117.05 507.68,119.31C508.40,121.41 509.13,124.33 509.85,124.33C510.41,124.33 510.97,123.55 511.53,122.65C512.08,121.76 512.64,118.24 513.20,115.96C513.87,113.23 514.54,109.79 515.21,107.60C515.93,105.22 516.66,102.61 517.38,101.75C518.11,100.88 518.83,100.07 519.56,100.07C520.23,100.07 520.89,101.29 521.56,102.58C522.12,103.66 522.68,107.57 523.24,109.27C523.68,110.63 524.13,112.62 524.57,112.62C525.13,112.62 525.69,109.61 526.25,107.60C526.92,105.19 527.59,100.56 528.25,98.40C528.92,96.24 529.59,94.17 530.26,93.38C530.99,92.52 531.71,91.88 532.44,91.71C533.27,91.52 534.11,91.37 534.95,91.37C536.06,91.37 537.18,92.22 538.29,92.55C539.41,92.87 540.52,93.38 541.64,93.38C542.75,93.38 543.87,92.79 544.98,92.55C545.82,92.36 546.65,92.21 547.49,92.04" stroke="#7dbde6" stroke-width="0.9" fill="none" stroke-linejoin="round" stroke-linecap="butt" stroke-dasharray="1.1 1.0"/>
<path clip-path="url(#cR2)" d="M307.35,111.45C308.46,111.56 309.58,111.60 310.69,111.78C311.81,111.97 312.92,112.79 314.04,113.45C315.15,114.12 316.27,115.08 317.38,115.96C318.50,116.85 319.61,117.98 320.73,118.81C321.40,119.30 322.07,120.15 322.73,120.15C323.29,120.15 323.85,119.27 324.41,118.47C325.13,117.44 325.86,115.01 326.58,112.62C327.42,109.86 328.25,104.71 329.09,101.75C329.93,98.78 330.76,96.00 331.60,94.22C332.16,93.03 332.72,91.37 333.27,91.37C333.83,91.37 334.39,92.01 334.95,92.55C335.50,93.08 336.06,94.22 336.62,95.05C337.18,95.89 337.73,97.03 338.29,97.56C338.85,98.10 339.41,98.73 339.96,98.73C340.52,98.73 341.08,97.81 341.64,96.73C342.03,95.97 342.42,93.17 342.81,91.71C343.14,90.46 343.48,88.36 343.81,88.36C344.15,88.36 344.48,91.15 344.81,92.55C345.15,93.94 345.48,96.73 345.82,96.73C346.38,96.73 346.93,96.55 347.49,96.39C348.33,96.16 349.16,95.40 350.00,95.05C351.39,94.49 352.79,94.09 354.18,93.72C355.85,93.26 357.53,92.87 359.20,92.55C360.87,92.22 362.55,91.87 364.22,91.71C365.89,91.55 367.56,91.37 369.24,91.37C370.91,91.37 372.58,91.37 374.25,91.37C375.93,91.37 377.60,91.53 379.27,91.71C380.39,91.83 381.50,92.22 382.62,92.55C383.73,92.87 384.85,93.21 385.96,93.72C387.08,94.22 388.19,94.91 389.31,95.89C389.77,96.30 390.23,97.05 390.69,97.56C391.81,98.80 392.92,100.03 394.04,100.91C395.15,101.79 396.27,102.80 397.38,103.08C398.05,103.25 398.72,103.42 399.39,103.42C399.84,103.42 400.28,101.93 400.73,100.91C401.28,99.63 401.84,96.86 402.40,95.89C402.85,95.12 403.29,94.22 403.74,94.22C404.13,94.22 404.52,95.32 404.91,95.89C405.47,96.71 406.02,98.40 406.58,98.40C407.42,98.40 408.25,96.89 409.09,96.73C410.76,96.41 412.44,96.34 414.11,96.23C416.34,96.07 418.57,96.00 420.80,95.89C423.03,95.78 425.26,95.69 427.49,95.56C429.72,95.42 431.95,95.37 434.18,95.05C435.30,94.90 436.41,93.94 437.53,93.38C438.64,92.82 439.76,91.94 440.87,91.71C441.71,91.54 442.55,91.37 443.38,91.37C443.94,91.37 444.50,91.97 445.05,92.55C445.61,93.12 446.17,94.55 446.73,95.89C447.28,97.23 447.84,99.11 448.40,100.91C448.96,102.71 449.52,105.90 450.07,106.76C450.63,107.63 451.19,108.44 451.75,108.44C452.30,108.44 452.86,106.88 453.42,105.93C453.98,104.97 454.53,103.40 455.09,102.58C455.93,101.35 456.76,100.02 457.60,99.74C458.44,99.45 459.27,99.56 460.11,99.24C460.67,99.02 461.22,97.38 461.78,95.89C462.34,94.40 462.90,90.04 463.45,89.20C463.73,88.78 464.01,88.36 464.29,88.36C464.68,88.36 465.07,90.55 465.46,91.71C465.91,93.04 466.35,95.15 466.80,95.89C466.93,96.11 467.07,96.39 467.20,96.39C468.04,96.39 468.87,96.10 469.71,95.89C470.82,95.61 471.94,95.10 473.05,94.72C474.73,94.15 476.40,93.54 478.07,93.05C479.75,92.55 481.42,91.95 483.09,91.71C484.76,91.47 486.44,91.21 488.11,91.21C489.78,91.21 491.45,91.21 493.13,91.21C494.80,91.21 496.47,91.26 498.15,91.37C498.98,91.43 499.82,91.99 500.65,92.55C501.49,93.10 502.33,94.30 503.16,95.39C504.00,96.48 504.84,97.90 505.67,99.24C506.51,100.57 507.35,102.38 508.18,103.42C508.85,104.25 509.52,104.98 510.19,105.43C510.75,105.79 511.30,106.26 511.86,106.26C512.59,106.26 513.31,105.20 514.04,104.25C514.87,103.16 515.71,100.20 516.55,98.40C517.38,96.60 518.22,94.50 519.05,93.38C519.89,92.27 520.73,91.29 521.56,90.87C522.40,90.45 523.24,90.04 524.07,90.04C524.91,90.04 525.75,91.37 526.58,91.37C527.70,91.37 528.81,91.37 529.93,91.37C531.04,91.37 532.16,90.37 533.27,90.37C534.11,90.37 534.95,90.66 535.78,90.87C536.62,91.08 537.45,91.37 538.29,91.71C539.13,92.05 539.96,93.05 540.80,93.05C541.64,93.05 542.47,92.80 543.31,92.55C544.15,92.29 544.98,90.87 545.82,90.87C546.38,90.87 546.93,91.43 547.49,91.71" stroke="#ee9878" stroke-width="1.0" fill="none" stroke-linejoin="round" stroke-linecap="butt"/>
<rect x="307.50" y="87.60" width="239.95" height="44.60" stroke="#d0d0d0" stroke-width="1" fill="none"/>
<path d="M307.50 132.20v-2.2M307.50 87.60v2.2M344.99 132.20v-2.2M344.99 87.60v2.2M382.48 132.20v-2.2M382.48 87.60v2.2M419.98 132.20v-2.2M419.98 87.60v2.2M457.47 132.20v-2.2M457.47 87.60v2.2M494.96 132.20v-2.2M494.96 87.60v2.2M532.45 132.20v-2.2M532.45 87.60v2.2M307.50 130.22h2.2M547.45 130.22h-2.2M307.50 121.02h2.2M547.45 121.02h-2.2M307.50 111.81h2.2M547.45 111.81h-2.2M307.50 102.60h2.2M547.45 102.60h-2.2M307.50 93.40h2.2M547.45 93.40h-2.2" stroke="#d0d0d0" stroke-width="0.7" fill="none"/>
<text x="307.50" y="140.70" font-size="6.4" text-anchor="middle">0</text>
<text x="344.99" y="140.70" font-size="6.4" text-anchor="middle">50</text>
<text x="382.48" y="140.70" font-size="6.4" text-anchor="middle">100</text>
<text x="419.98" y="140.70" font-size="6.4" text-anchor="middle">150</text>
<text x="457.47" y="140.70" font-size="6.4" text-anchor="middle">200</text>
<text x="494.96" y="140.70" font-size="6.4" text-anchor="middle">250</text>
<text x="532.45" y="140.70" font-size="6.4" text-anchor="middle">300</text>
<text x="305.70" y="132.82" font-size="6.4" text-anchor="end">1.8</text>
<text x="305.70" y="123.62" font-size="6.4" text-anchor="end">2</text>
<text x="305.70" y="114.41" font-size="6.4" text-anchor="end">2.2</text>
<text x="305.70" y="105.20" font-size="6.4" text-anchor="end">2.4</text>
<text x="305.70" y="96.00" font-size="6.4" text-anchor="end">2.6</text>
<text x="427.48" y="149.70" font-size="7.25" text-anchor="middle">Step</text>
<text transform="translate(291.00 110.20) rotate(-90)" font-size="7.4" text-anchor="middle">u<tspan font-size="6" dy="3.7">2</tspan></text>
<rect x="347.40" y="111.00" width="62.10" height="14.10" fill="#fff" stroke="#d0d0d0" stroke-width="0.7"/>
<path d="M348.00 114.90h5.6" stroke="#7dbde6" stroke-width="0.9" stroke-dasharray="1.1 1.0"/>
<path d="M348.60 121.90h5.2" stroke="#ee9878" stroke-width="0.9"/>
<text x="355.10" y="116.80" font-size="5.4">Initial Parameters</text>
<text x="355.10" y="123.80" font-size="5.4">Optimized Parameters</text>
<path d="M344.99 172.80V217.20M382.48 172.80V217.20M419.98 172.80V217.20M457.47 172.80V217.20M494.96 172.80V217.20M532.45 172.80V217.20M307.50 195.00H547.45" stroke="#f1f1f1" stroke-width="0.6" fill="none"/>
<clipPath id="cR3"><rect x="307.50" y="172.80" width="239.95" height="44.40"/></clipPath>
<path clip-path="url(#cR3)" d="M307.35,193.10C308.46,192.93 309.58,192.86 310.69,192.60C311.81,192.34 312.92,191.60 314.04,190.93C315.15,190.26 316.27,189.37 317.38,188.42C318.50,187.46 319.61,186.19 320.73,185.07C321.84,183.96 322.96,182.68 324.07,181.73C325.19,180.77 326.30,179.85 327.42,179.22C328.25,178.74 329.09,178.05 329.93,178.05C330.48,178.05 331.04,178.20 331.60,178.38C332.16,178.57 332.72,179.37 333.27,180.05C334.11,181.08 334.95,182.52 335.78,184.24C336.62,185.95 337.45,189.02 338.29,190.93C339.13,192.84 339.96,194.61 340.80,195.95C341.64,197.28 342.47,198.41 343.31,199.29C344.15,200.17 344.98,201.02 345.82,201.47C346.38,201.76 346.93,202.13 347.49,202.13C348.05,202.13 348.61,201.62 349.16,201.47C350.00,201.24 350.84,200.96 351.67,200.96C352.51,200.96 353.35,201.29 354.18,201.47C355.85,201.82 357.53,202.31 359.20,202.64C360.87,202.96 362.55,203.19 364.22,203.47C365.89,203.75 367.56,204.31 369.24,204.31C370.91,204.31 372.58,204.31 374.25,204.31C375.93,204.31 377.60,203.97 379.27,203.97C380.39,203.97 381.50,204.18 382.62,204.31C383.73,204.44 384.85,204.68 385.96,204.81C387.08,204.94 388.19,204.98 389.31,205.15C389.77,205.21 390.23,205.48 390.69,205.48C391.81,205.48 392.92,205.48 394.04,205.48C395.15,205.48 396.27,205.48 397.38,205.48C398.22,205.48 399.05,205.98 399.89,205.98C400.45,205.98 401.01,205.42 401.56,205.15C402.12,204.87 402.68,204.68 403.24,204.31C403.79,203.94 404.35,203.10 404.91,202.64C405.47,202.18 406.02,201.47 406.58,201.47C407.42,201.47 408.25,202.27 409.09,202.64C410.48,203.24 411.88,203.75 413.27,204.31C414.67,204.87 416.06,205.57 417.45,205.98C419.13,206.48 420.80,206.84 422.47,207.15C424.70,207.56 426.93,208.16 429.16,208.16C431.39,208.16 433.62,207.91 435.85,207.65C437.25,207.50 438.64,207.17 440.04,206.82C440.87,206.60 441.71,206.40 442.55,205.98C443.38,205.56 444.22,204.52 445.05,203.47C445.89,202.43 446.73,200.81 447.56,199.29C448.40,197.77 449.24,195.48 450.07,194.27C450.91,193.06 451.75,191.71 452.58,191.43C453.42,191.14 454.25,190.93 455.09,190.93C455.82,190.93 456.54,191.91 457.27,192.60C457.93,193.24 458.60,194.15 459.27,195.11C459.94,196.06 460.61,197.27 461.28,198.45C461.73,199.24 462.17,200.96 462.62,200.96C463.18,200.96 463.73,199.66 464.29,199.29C464.85,198.92 465.41,198.45 465.96,198.45C466.38,198.45 466.79,201.44 467.20,201.80C467.76,202.29 468.32,202.64 468.87,202.64C469.71,202.64 470.55,201.47 471.38,201.47C472.50,201.47 473.61,201.71 474.73,201.80C476.40,201.94 478.07,201.97 479.75,202.13C481.42,202.30 483.09,202.80 484.76,203.14C486.72,203.53 488.67,204.31 490.62,204.31C491.73,204.31 492.85,204.04 493.96,203.81C495.08,203.57 496.19,203.10 497.31,202.64C498.42,202.18 499.54,201.71 500.65,200.96C501.77,200.22 502.88,199.03 504.00,197.62C504.84,196.56 505.67,195.06 506.51,193.44C507.35,191.81 508.18,189.26 509.02,187.58C509.74,186.13 510.47,184.14 511.19,183.73C511.86,183.36 512.53,183.07 513.20,183.07C513.87,183.07 514.54,184.86 515.21,185.91C515.93,187.05 516.66,189.16 517.38,189.76C518.11,190.35 518.83,190.93 519.56,190.93C520.11,190.93 520.67,189.37 521.23,188.42C521.79,187.46 522.34,185.07 522.90,185.07C523.29,185.07 523.68,185.88 524.07,186.75C524.46,187.61 524.85,190.92 525.24,192.60C525.69,194.52 526.14,196.33 526.58,197.62C527.14,199.22 527.70,200.77 528.25,201.47C528.92,202.30 529.59,202.55 530.26,203.14C530.99,203.77 531.71,205.15 532.44,205.15C533.16,205.15 533.89,204.69 534.61,204.31C535.28,203.96 535.95,202.96 536.62,202.64C537.45,202.23 538.29,201.80 539.13,201.80C539.96,201.80 540.80,201.95 541.64,202.13C542.47,202.32 543.31,203.05 544.15,203.81C544.70,204.31 545.26,205.16 545.82,205.98C546.38,206.80 546.93,207.88 547.49,208.83" stroke="#7dbde6" stroke-width="0.9" fill="none" stroke-linejoin="round" stroke-linecap="butt" stroke-dasharray="1.1 1.0"/>
<path clip-path="url(#cR3)" d="M307.35,193.10C308.46,192.93 309.58,192.86 310.69,192.60C311.81,192.34 312.92,191.60 314.04,190.93C315.15,190.26 316.27,189.37 317.38,188.42C318.50,187.46 319.61,185.96 320.73,185.07C321.56,184.41 322.40,183.81 323.24,183.40C323.96,183.05 324.69,182.56 325.41,182.56C326.08,182.56 326.75,183.44 327.42,184.24C327.98,184.90 328.53,186.24 329.09,187.58C329.65,188.92 330.21,190.80 330.76,192.60C331.32,194.40 331.88,196.72 332.44,198.45C332.99,200.19 333.55,202.21 334.11,203.14C334.95,204.53 335.78,205.55 336.62,205.98C337.45,206.41 338.29,206.51 339.13,206.82C339.80,207.07 340.47,207.22 341.13,207.65C341.58,207.94 342.03,208.96 342.47,209.33C342.92,209.70 343.36,210.16 343.81,210.16C344.20,210.16 344.59,208.70 344.98,207.65C345.37,206.61 345.76,204.22 346.15,203.47C346.49,202.83 346.82,202.13 347.16,202.13C347.55,202.13 347.94,203.47 348.33,203.47C349.16,203.47 350.00,203.47 350.84,203.47C351.95,203.47 353.07,203.99 354.18,204.31C355.85,204.78 357.53,205.42 359.20,205.98C360.87,206.54 362.55,207.28 364.22,207.65C365.89,208.03 367.56,208.33 369.24,208.49C370.91,208.65 372.58,208.69 374.25,208.83C375.93,208.96 377.60,209.33 379.27,209.33C380.39,209.33 381.50,209.33 382.62,209.33C383.73,209.33 384.85,208.86 385.96,208.49C387.08,208.12 388.19,207.71 389.31,206.82C389.77,206.45 390.23,205.25 390.69,204.81C391.81,203.75 392.92,203.14 394.04,202.64C395.15,202.13 396.27,201.47 397.38,201.47C398.22,201.47 399.05,201.47 399.89,201.47C400.45,201.47 401.01,202.64 401.56,203.47C402.12,204.31 402.68,206.55 403.24,206.82C403.63,207.01 404.02,207.15 404.41,207.15C404.85,207.15 405.30,204.92 405.75,204.31C406.30,203.54 406.86,202.64 407.42,202.64C408.25,202.64 409.09,203.45 409.93,203.81C411.04,204.29 412.16,204.84 413.27,205.15C414.67,205.52 416.06,205.73 417.45,205.98C419.13,206.29 420.80,206.69 422.47,206.82C424.70,206.99 426.93,207.02 429.16,207.15C431.39,207.29 433.62,207.40 435.85,207.65C437.25,207.81 438.64,208.21 440.04,208.49C440.87,208.66 441.71,208.99 442.55,208.99C443.38,208.99 444.22,208.46 445.05,208.16C446.17,207.75 447.28,207.26 448.40,206.82C449.79,206.26 451.19,205.75 452.58,205.15C453.98,204.54 455.37,203.91 456.76,203.14C457.88,202.52 458.99,200.96 460.11,200.96C460.67,200.96 461.22,201.84 461.78,202.64C462.34,203.43 462.90,205.83 463.45,206.82C464.29,208.30 465.13,209.44 465.96,210.16C466.65,210.76 467.35,211.20 468.04,211.50C468.71,211.80 469.37,212.17 470.04,212.17C470.60,212.17 471.16,211.07 471.72,210.16C472.27,209.26 472.83,206.65 473.39,205.98C474.11,205.11 474.84,204.65 475.56,204.31C476.40,203.92 477.24,203.47 478.07,203.47C479.19,203.47 480.30,204.02 481.42,204.31C482.81,204.68 484.21,205.15 485.60,205.48C487.27,205.87 488.95,206.29 490.62,206.48C492.01,206.64 493.41,206.82 494.80,206.82C496.19,206.82 497.59,206.64 498.98,206.48C500.38,206.32 501.77,205.99 503.16,205.65C504.56,205.30 505.95,204.86 507.35,204.31C508.46,203.87 509.58,202.95 510.69,202.64C511.53,202.40 512.36,202.13 513.20,202.13C514.04,202.13 514.87,202.72 515.71,203.14C516.55,203.56 517.38,204.25 518.22,204.81C519.05,205.37 519.89,206.17 520.73,206.48C521.56,206.80 522.40,207.15 523.24,207.15C524.07,207.15 524.91,206.40 525.75,205.98C526.58,205.57 527.42,204.64 528.25,204.64C529.09,204.64 529.93,205.14 530.76,205.48C531.60,205.82 532.44,206.48 533.27,206.82C534.11,207.16 534.95,207.65 535.78,207.65C536.62,207.65 537.45,206.65 538.29,205.98C539.13,205.31 539.96,204.00 540.80,203.47C541.64,202.94 542.47,202.30 543.31,202.30C543.87,202.30 544.42,202.71 544.98,203.14C545.54,203.57 546.10,204.95 546.65,205.98C546.93,206.50 547.21,207.10 547.49,207.65" stroke="#ee9878" stroke-width="1.0" fill="none" stroke-linejoin="round" stroke-linecap="butt"/>
<rect x="307.50" y="172.80" width="239.95" height="44.40" stroke="#d0d0d0" stroke-width="1" fill="none"/>
<path d="M307.50 217.20v-2.2M307.50 172.80v2.2M344.99 217.20v-2.2M344.99 172.80v2.2M382.48 217.20v-2.2M382.48 172.80v2.2M419.98 217.20v-2.2M419.98 172.80v2.2M457.47 217.20v-2.2M457.47 172.80v2.2M494.96 217.20v-2.2M494.96 172.80v2.2M532.45 217.20v-2.2M532.45 172.80v2.2M307.50 217.20h2.2M547.45 217.20h-2.2M307.50 195.00h2.2M547.45 195.00h-2.2M307.50 172.80h2.2M547.45 172.80h-2.2" stroke="#d0d0d0" stroke-width="0.7" fill="none"/>
<text x="307.50" y="225.70" font-size="6.4" text-anchor="middle">0</text>
<text x="344.99" y="225.70" font-size="6.4" text-anchor="middle">50</text>
<text x="382.48" y="225.70" font-size="6.4" text-anchor="middle">100</text>
<text x="419.98" y="225.70" font-size="6.4" text-anchor="middle">150</text>
<text x="457.47" y="225.70" font-size="6.4" text-anchor="middle">200</text>
<text x="494.96" y="225.70" font-size="6.4" text-anchor="middle">250</text>
<text x="532.45" y="225.70" font-size="6.4" text-anchor="middle">300</text>
<text x="305.70" y="219.80" font-size="6.4" text-anchor="end">1</text>
<text x="305.70" y="197.60" font-size="6.4" text-anchor="end">2</text>
<text x="305.70" y="175.40" font-size="6.4" text-anchor="end">3</text>
<text x="427.48" y="234.70" font-size="7.25" text-anchor="middle">Step</text>
<text transform="translate(296.40 195.30) rotate(-90)" font-size="7.4" text-anchor="middle">u<tspan font-size="6" dy="3.7">1</tspan></text>
<rect x="352.40" y="176.00" width="62.10" height="14.10" fill="#fff" stroke="#d0d0d0" stroke-width="0.7"/>
<path d="M353.00 179.90h5.6" stroke="#7dbde6" stroke-width="0.9" stroke-dasharray="1.1 1.0"/>
<path d="M353.60 186.90h5.2" stroke="#ee9878" stroke-width="0.9"/>
<text x="360.10" y="181.80" font-size="5.4">Initial Parameters</text>
<text x="360.10" y="188.80" font-size="5.4">Optimized Parameters</text>
<path d="M344.99 244.40V288.60M382.48 244.40V288.60M419.98 244.40V288.60M457.47 244.40V288.60M494.96 244.40V288.60M532.45 244.40V288.60M307.50 280.42H547.45M307.50 262.41H547.45" stroke="#f1f1f1" stroke-width="0.6" fill="none"/>
<clipPath id="cR4"><rect x="307.50" y="244.40" width="239.95" height="44.20"/></clipPath>
<path clip-path="url(#cR4)" d="M307.35,273.13C308.46,273.24 309.58,273.28 310.69,273.46C311.81,273.64 312.92,274.18 314.04,274.80C315.15,275.42 316.27,276.75 317.38,277.81C318.50,278.87 319.61,279.93 320.73,281.16C321.73,282.26 322.73,283.81 323.74,284.84C324.69,285.81 325.63,286.77 326.58,287.35C327.42,287.85 328.25,288.52 329.09,288.52C329.76,288.52 330.43,288.20 331.10,287.85C331.82,287.47 332.55,286.23 333.27,285.17C334.11,283.95 334.95,282.45 335.78,280.65C336.62,278.86 337.45,276.20 338.29,273.96C339.02,272.02 339.74,269.60 340.47,268.11C341.13,266.74 341.80,265.69 342.47,264.76C343.03,263.99 343.59,263.02 344.15,262.76C344.70,262.49 345.26,262.25 345.82,262.25C346.49,262.25 347.16,262.63 347.83,262.76C348.55,262.89 349.28,262.92 350.00,263.09C350.56,263.23 351.12,263.93 351.67,263.93C352.51,263.93 353.35,263.03 354.18,262.76C355.30,262.39 356.41,262.15 357.53,261.92C359.20,261.58 360.87,261.36 362.55,261.08C364.22,260.80 365.89,260.25 367.56,260.25C369.24,260.25 370.91,260.25 372.58,260.25C374.25,260.25 375.93,260.17 377.60,260.08C379.27,259.99 380.95,259.60 382.62,259.41C384.29,259.22 385.96,259.12 387.64,258.91C388.65,258.78 389.67,258.41 390.69,258.41C391.81,258.41 392.92,258.41 394.04,258.41C395.15,258.41 396.27,258.41 397.38,258.41C398.50,258.41 399.61,258.07 400.73,258.07C401.28,258.07 401.84,258.07 402.40,258.07C402.96,258.07 403.52,258.46 404.07,258.91C404.63,259.36 405.19,262.04 405.75,262.25C406.58,262.58 407.42,262.76 408.25,262.76C409.65,262.76 411.04,261.87 412.44,261.42C414.11,260.87 415.78,260.30 417.45,259.75C419.13,259.19 420.80,258.44 422.47,258.07C424.15,257.70 425.82,257.24 427.49,257.24C429.16,257.24 430.84,257.24 432.51,257.24C434.18,257.24 435.85,257.49 437.53,257.74C438.92,257.95 440.32,258.29 441.71,258.91C442.82,259.41 443.94,260.84 445.05,262.25C445.89,263.31 446.73,264.92 447.56,266.44C448.40,267.96 449.24,269.93 450.07,271.45C450.91,272.98 451.75,274.84 452.58,275.64C453.42,276.43 454.25,277.31 455.09,277.31C455.93,277.31 456.76,276.43 457.60,275.64C458.44,274.84 459.27,273.15 460.11,271.45C460.67,270.32 461.22,268.61 461.78,267.27C462.34,265.94 462.90,264.02 463.45,263.43C464.01,262.83 464.57,262.25 465.13,262.25C465.68,262.25 466.24,264.43 466.80,264.43C466.93,264.43 467.07,263.15 467.20,263.09C467.76,262.83 468.32,262.76 468.87,262.76C469.43,262.76 469.99,263.93 470.55,263.93C471.38,263.93 472.22,263.28 473.05,263.09C474.73,262.70 476.40,262.58 478.07,262.25C479.75,261.93 481.42,261.41 483.09,261.08C484.76,260.76 486.44,260.34 488.11,260.25C489.78,260.15 491.45,260.08 493.13,260.08C494.52,260.08 495.92,260.60 497.31,261.08C498.42,261.47 499.54,262.19 500.65,263.09C501.77,264.00 502.88,265.43 504.00,267.27C504.84,268.65 505.67,271.18 506.51,273.13C507.35,275.08 508.18,277.30 509.02,278.98C509.74,280.44 510.47,282.61 511.19,282.83C511.86,283.03 512.53,283.16 513.20,283.16C513.87,283.16 514.54,281.58 515.21,280.65C515.93,279.66 516.66,278.05 517.38,277.31C518.11,276.57 518.83,275.64 519.56,275.64C520.11,275.64 520.67,276.50 521.23,277.31C521.79,278.12 522.34,281.43 522.90,281.83C523.29,282.10 523.68,282.33 524.07,282.33C524.46,282.33 524.85,279.11 525.24,277.31C525.69,275.25 526.14,272.47 526.58,270.62C527.14,268.31 527.70,266.12 528.25,264.76C528.92,263.14 529.59,261.95 530.26,261.08C530.99,260.14 531.71,258.91 532.44,258.91C533.16,258.91 533.89,259.32 534.61,259.75C535.28,260.14 535.95,261.78 536.62,262.25C537.18,262.65 537.73,263.09 538.29,263.09C539.13,263.09 539.96,263.09 540.80,263.09C541.64,263.09 542.47,262.26 543.31,261.42C543.87,260.86 544.42,259.38 544.98,258.41C545.54,257.43 546.10,256.06 546.65,255.56C547.10,255.16 547.55,255.01 547.99,254.73" stroke="#7dbde6" stroke-width="0.9" fill="none" stroke-linejoin="round" stroke-linecap="butt" stroke-dasharray="1.1 1.0"/>
<path clip-path="url(#cR4)" d="M307.35,273.13C308.46,273.24 309.58,273.28 310.69,273.46C311.81,273.64 312.92,274.22 314.04,274.80C315.15,275.38 316.27,276.35 317.38,277.31C318.50,278.26 319.61,279.57 320.73,280.65C321.73,281.63 322.73,282.86 323.74,283.50C324.41,283.93 325.08,284.50 325.75,284.50C326.41,284.50 327.08,283.63 327.75,282.83C328.48,281.96 329.20,279.96 329.93,278.15C330.76,276.06 331.60,273.13 332.44,270.62C333.27,268.11 334.11,265.18 334.95,263.09C335.78,261.01 336.62,258.72 337.45,257.74C338.12,256.95 338.79,256.36 339.46,256.07C340.02,255.82 340.58,255.79 341.13,255.56C341.58,255.38 342.03,255.11 342.47,254.73C342.81,254.44 343.14,253.39 343.48,253.39C343.81,253.39 344.15,254.05 344.48,254.73C344.81,255.40 345.15,257.77 345.48,258.91C345.87,260.24 346.26,262.25 346.65,262.25C347.04,262.25 347.44,261.68 347.83,261.42C348.27,261.12 348.72,260.58 349.16,260.58C350.00,260.58 350.84,260.58 351.67,260.58C353.07,260.58 354.46,259.79 355.85,259.41C357.53,258.95 359.20,258.52 360.87,258.07C362.55,257.63 364.22,256.91 365.89,256.73C367.56,256.56 369.24,256.55 370.91,256.40C372.58,256.25 374.25,255.92 375.93,255.73C377.60,255.54 379.27,255.23 380.95,255.23C382.06,255.23 383.18,255.39 384.29,255.56C385.41,255.74 386.52,256.21 387.64,256.73C388.65,257.21 389.67,258.17 390.69,258.91C391.81,259.72 392.92,260.67 394.04,261.42C395.15,262.16 396.27,263.10 397.38,263.43C398.22,263.67 399.05,263.93 399.89,263.93C400.45,263.93 401.01,261.77 401.56,260.58C402.12,259.39 402.68,257.09 403.24,256.73C403.52,256.56 403.79,256.40 404.07,256.40C404.52,256.40 404.96,258.16 405.41,258.91C405.97,259.84 406.53,261.42 407.08,261.42C407.75,261.42 408.42,260.77 409.09,260.58C410.48,260.19 411.88,260.02 413.27,259.75C414.67,259.47 416.06,259.23 417.45,258.91C418.85,258.58 420.24,257.93 421.64,257.74C423.59,257.47 425.54,257.39 427.49,257.24C429.72,257.06 431.95,256.97 434.18,256.73C435.85,256.56 437.53,256.08 439.20,255.90C440.59,255.75 441.99,255.56 443.38,255.56C444.50,255.56 445.61,256.23 446.73,256.73C447.84,257.24 448.96,258.13 450.07,258.91C451.19,259.69 452.30,260.58 453.42,261.42C454.53,262.25 455.65,263.03 456.76,263.93C457.60,264.60 458.44,265.84 459.27,266.10C459.83,266.28 460.39,266.44 460.95,266.44C461.50,266.44 462.06,264.58 462.62,263.09C463.18,261.60 463.73,257.78 464.29,256.40C464.85,255.02 465.41,253.54 465.96,253.39C466.77,253.17 467.57,253.24 468.37,253.05C468.93,252.93 469.49,252.22 470.04,252.22C470.60,252.22 471.16,253.75 471.72,254.73C472.44,256.00 473.17,258.85 473.89,259.41C474.73,260.06 475.56,260.58 476.40,260.58C477.24,260.58 478.07,260.58 478.91,260.58C480.02,260.58 481.14,259.73 482.25,259.41C483.65,259.01 485.04,258.65 486.44,258.41C488.11,258.12 489.78,257.74 491.45,257.74C493.13,257.74 494.80,257.74 496.47,257.74C497.87,257.74 499.26,258.07 500.65,258.41C502.05,258.75 503.44,259.81 504.84,260.58C506.23,261.36 507.62,262.48 509.02,263.09C510.13,263.58 511.25,264.26 512.36,264.26C513.20,264.26 514.04,263.82 514.87,263.43C515.71,263.03 516.55,262.16 517.38,261.42C518.22,260.67 519.05,259.58 519.89,258.91C520.73,258.24 521.56,257.24 522.40,257.24C522.96,257.24 523.52,257.24 524.07,257.24C524.91,257.24 525.75,257.95 526.58,258.41C527.42,258.87 528.25,260.08 529.09,260.08C529.93,260.08 530.76,258.96 531.60,258.41C532.44,257.85 533.27,256.73 534.11,256.73C534.67,256.73 535.22,257.25 535.78,257.74C536.51,258.37 537.23,260.68 537.96,261.42C538.90,262.38 539.85,263.43 540.80,263.43C541.52,263.43 542.25,263.30 542.97,263.09C543.64,262.90 544.31,260.80 544.98,259.75C545.54,258.87 546.10,257.24 546.65,257.24C547.10,257.24 547.55,257.57 547.99,257.74" stroke="#ee9878" stroke-width="1.0" fill="none" stroke-linejoin="round" stroke-linecap="butt"/>
<rect x="307.50" y="244.40" width="239.95" height="44.20" stroke="#d0d0d0" stroke-width="1" fill="none"/>
<path d="M307.50 288.60v-2.2M307.50 244.40v2.2M344.99 288.60v-2.2M344.99 244.40v2.2M382.48 288.60v-2.2M382.48 244.40v2.2M419.98 288.60v-2.2M419.98 244.40v2.2M457.47 288.60v-2.2M457.47 244.40v2.2M494.96 288.60v-2.2M494.96 244.40v2.2M532.45 288.60v-2.2M532.45 244.40v2.2M307.50 280.42h2.2M547.45 280.42h-2.2M307.50 262.41h2.2M547.45 262.41h-2.2M307.50 244.40h2.2M547.45 244.40h-2.2" stroke="#d0d0d0" stroke-width="0.7" fill="none"/>
<text x="307.50" y="297.10" font-size="6.4" text-anchor="middle">0</text>
<text x="344.99" y="297.10" font-size="6.4" text-anchor="middle">50</text>
<text x="382.48" y="297.10" font-size="6.4" text-anchor="middle">100</text>
<text x="419.98" y="297.10" font-size="6.4" text-anchor="middle">150</text>
<text x="457.47" y="297.10" font-size="6.4" text-anchor="middle">200</text>
<text x="494.96" y="297.10" font-size="6.4" text-anchor="middle">250</text>
<text x="532.45" y="297.10" font-size="6.4" text-anchor="middle">300</text>
<text x="305.70" y="283.02" font-size="6.4" text-anchor="end">2</text>
<text x="305.70" y="265.01" font-size="6.4" text-anchor="end">2.5</text>
<text x="305.70" y="247.00" font-size="6.4" text-anchor="end">3</text>
<text x="427.48" y="306.10" font-size="7.25" text-anchor="middle">Step</text>
<text transform="translate(291.00 266.80) rotate(-90)" font-size="7.4" text-anchor="middle">u<tspan font-size="6" dy="3.7">2</tspan></text>
<rect x="352.40" y="268.30" width="62.10" height="14.10" fill="#fff" stroke="#d0d0d0" stroke-width="0.7"/>
<path d="M353.00 272.20h5.6" stroke="#7dbde6" stroke-width="0.9" stroke-dasharray="1.1 1.0"/>
<path d="M353.60 279.20h5.2" stroke="#ee9878" stroke-width="0.9"/>
<text x="360.10" y="274.10" font-size="5.4">Initial Parameters</text>
<text x="360.10" y="281.10" font-size="5.4">Optimized Parameters</text>
<path d="M344.99 327.10V373.10M382.48 327.10V373.10M419.98 327.10V373.10M457.47 327.10V373.10M494.96 327.10V373.10M532.45 327.10V373.10M307.50 351.20H547.45M307.50 329.29H547.45" stroke="#f1f1f1" stroke-width="0.6" fill="none"/>
<clipPath id="cR5"><rect x="307.50" y="327.10" width="239.95" height="46.00"/></clipPath>
<path clip-path="url(#cR5)" d="M307.35,349.77C308.46,349.44 309.58,349.19 310.69,348.77C311.81,348.35 312.92,347.75 314.04,347.10C315.15,346.45 316.27,345.56 317.38,344.76C318.50,343.95 319.61,342.95 320.73,342.25C321.84,341.54 322.96,340.88 324.07,340.41C325.19,339.93 326.30,339.24 327.42,339.24C328.53,339.24 329.65,339.41 330.76,339.57C331.88,339.73 332.99,340.13 334.11,340.41C335.22,340.69 336.34,341.24 337.45,341.24C338.01,341.24 338.57,340.91 339.13,340.91C339.57,340.91 340.02,341.46 340.47,342.08C340.86,342.63 341.25,344.38 341.64,345.93C342.03,347.48 342.42,350.10 342.81,351.78C343.25,353.70 343.70,355.83 344.15,356.80C344.70,358.01 345.26,359.31 345.82,359.31C346.26,359.31 346.71,359.03 347.16,358.81C347.83,358.47 348.49,357.41 349.16,357.13C350.00,356.79 350.84,356.47 351.67,356.47C352.51,356.47 353.35,356.90 354.18,357.13C355.30,357.45 356.41,357.93 357.53,358.14C359.20,358.46 360.87,358.56 362.55,358.81C364.22,359.06 365.89,359.36 367.56,359.64C369.24,359.92 370.91,360.27 372.58,360.48C374.25,360.69 375.93,360.77 377.60,360.98C379.27,361.19 380.95,361.51 382.62,361.82C384.01,362.07 385.41,362.65 386.80,362.65C387.64,362.65 388.47,362.65 389.31,362.65C389.77,362.65 390.23,362.65 390.69,362.65C391.81,362.65 392.92,362.45 394.04,362.32C395.15,362.19 396.27,361.82 397.38,361.82C398.22,361.82 399.05,361.96 399.89,362.15C400.45,362.28 401.01,363.16 401.56,363.16C402.12,363.16 402.68,362.94 403.24,362.65C403.79,362.37 404.35,360.51 404.91,359.81C405.47,359.11 406.02,358.14 406.58,358.14C407.42,358.14 408.25,358.87 409.09,359.31C410.48,360.03 411.88,361.07 413.27,361.82C414.67,362.56 416.06,363.27 417.45,363.83C419.13,364.49 420.80,365.08 422.47,365.50C424.15,365.92 425.82,366.50 427.49,366.50C429.16,366.50 430.84,366.50 432.51,366.50C434.18,366.50 435.85,366.17 437.53,366.00C439.20,365.83 440.87,365.71 442.55,365.50C443.94,365.33 445.33,365.17 446.73,364.83C448.12,364.49 449.52,363.36 450.91,362.65C452.02,362.09 453.14,361.35 454.25,360.98C455.37,360.61 456.48,360.34 457.60,360.15C458.44,360.00 459.27,360.00 460.11,359.81C460.67,359.68 461.22,359.17 461.78,358.81C462.34,358.45 462.90,358.10 463.45,357.64C464.01,357.18 464.57,355.96 465.13,355.96C465.68,355.96 466.24,357.64 466.80,357.64C467.10,357.64 467.40,355.96 467.70,355.96C468.09,355.96 468.48,356.57 468.87,356.80C469.43,357.13 469.99,357.64 470.55,357.64C471.38,357.64 472.22,357.13 473.05,357.13C474.17,357.13 475.28,357.46 476.40,357.64C478.07,357.90 479.75,358.19 481.42,358.47C483.09,358.75 484.76,359.15 486.44,359.31C488.11,359.47 489.78,359.64 491.45,359.64C493.13,359.64 494.80,359.64 496.47,359.64C498.15,359.64 499.82,359.64 501.49,359.64C502.88,359.64 504.28,359.64 505.67,359.64C506.23,359.64 506.79,359.00 507.35,358.47C507.90,357.94 508.46,356.84 509.02,355.96C509.85,354.65 510.69,353.11 511.53,351.78C512.64,350.02 513.76,348.28 514.87,346.76C515.99,345.24 517.10,344.02 518.22,342.58C519.05,341.50 519.89,340.72 520.73,339.24C521.28,338.25 521.84,336.68 522.40,335.05C522.96,333.43 523.52,330.66 524.07,329.20C524.52,328.03 524.96,326.36 525.41,326.36C525.80,326.36 526.19,328.55 526.58,330.04C527.14,332.16 527.70,335.36 528.25,338.40C528.81,341.44 529.37,345.57 529.93,348.44C530.48,351.30 531.04,354.17 531.60,355.96C532.16,357.76 532.72,359.55 533.27,360.15C533.94,360.86 534.61,361.31 535.28,361.48C536.00,361.67 536.73,361.82 537.45,361.82C538.29,361.82 539.13,361.82 539.96,361.82C540.80,361.82 541.64,360.98 542.47,360.98C543.03,360.98 543.59,360.98 544.15,360.98C544.70,360.98 545.26,362.20 545.82,362.65C546.38,363.11 546.93,363.44 547.49,363.83" stroke="#7dbde6" stroke-width="0.9" fill="none" stroke-linejoin="round" stroke-linecap="butt" stroke-dasharray="1.1 1.0"/>
<path clip-path="url(#cR5)" d="M307.35,349.27C308.46,348.99 309.58,348.81 310.69,348.44C311.81,348.06 312.92,347.43 314.04,346.76C315.15,346.09 316.27,345.09 317.38,344.25C318.50,343.42 319.61,342.58 320.73,341.75C321.84,340.91 322.96,339.77 324.07,339.24C325.19,338.70 326.30,338.07 327.42,338.07C328.53,338.07 329.65,338.58 330.76,338.90C331.88,339.23 332.99,339.75 334.11,340.07C335.22,340.40 336.34,340.91 337.45,340.91C338.01,340.91 338.57,340.41 339.13,340.41C339.57,340.41 340.02,341.08 340.47,341.75C340.86,342.33 341.25,343.67 341.64,345.09C342.03,346.51 342.42,349.27 342.81,350.95C343.25,352.86 343.70,354.86 344.15,355.96C344.70,357.34 345.26,358.77 345.82,358.97C346.38,359.18 346.93,359.31 347.49,359.31C348.33,359.31 349.16,358.14 350.00,358.14C350.84,358.14 351.67,358.91 352.51,359.31C353.62,359.85 354.74,360.35 355.85,360.98C356.97,361.61 358.08,362.40 359.20,363.16C360.32,363.91 361.43,364.81 362.55,365.50C363.66,366.19 364.78,366.79 365.89,367.34C367.01,367.89 368.12,368.53 369.24,368.84C370.35,369.15 371.47,369.51 372.58,369.51C373.70,369.51 374.81,369.35 375.93,369.18C377.04,369.00 378.16,368.45 379.27,368.01C380.39,367.57 381.50,367.03 382.62,366.50C383.73,365.97 384.85,365.46 385.96,364.83C387.08,364.20 388.19,363.64 389.31,362.65C389.77,362.25 390.23,361.33 390.69,360.98C391.81,360.14 392.92,359.77 394.04,359.31C395.15,358.85 396.27,358.42 397.38,358.14C398.22,357.93 399.05,357.64 399.89,357.64C400.45,357.64 401.01,359.15 401.56,360.15C402.12,361.14 402.68,362.99 403.24,363.83C403.52,364.24 403.79,364.83 404.07,364.83C404.52,364.83 404.96,361.98 405.41,360.98C405.80,360.11 406.19,358.81 406.58,358.81C407.42,358.81 408.25,359.41 409.09,359.81C410.21,360.34 411.32,361.15 412.44,361.82C413.55,362.49 414.67,363.38 415.78,363.83C416.90,364.27 418.01,364.83 419.13,364.83C420.80,364.83 422.47,364.83 424.15,364.83C425.82,364.83 427.49,364.83 429.16,364.83C430.84,364.83 432.51,364.83 434.18,364.83C435.85,364.83 437.53,365.05 439.20,365.16C440.87,365.28 442.55,365.50 444.22,365.50C445.33,365.50 446.45,365.32 447.56,365.16C448.68,365.00 449.79,364.54 450.91,364.33C452.02,364.12 453.14,364.06 454.25,363.83C455.37,363.59 456.48,363.17 457.60,362.65C458.44,362.26 459.27,361.46 460.11,360.98C460.67,360.67 461.22,360.15 461.78,360.15C462.34,360.15 462.90,361.77 463.45,362.65C464.01,363.54 464.57,365.50 465.13,365.50C465.52,365.50 465.91,364.94 466.30,364.33C466.77,363.59 467.23,360.20 467.70,358.81C468.09,357.64 468.48,355.96 468.87,355.96C469.26,355.96 469.65,355.96 470.04,355.96C470.49,355.96 470.94,358.28 471.38,358.81C471.94,359.47 472.50,360.15 473.05,360.15C473.89,360.15 474.73,359.31 475.56,359.31C476.40,359.31 477.24,359.79 478.07,360.15C479.19,360.62 480.30,361.46 481.42,362.15C482.53,362.85 483.65,363.60 484.76,364.33C485.88,365.05 486.99,365.81 488.11,366.50C489.22,367.20 490.34,368.12 491.45,368.51C492.57,368.90 493.68,369.35 494.80,369.35C495.92,369.35 497.03,369.35 498.15,369.35C499.26,369.35 500.38,368.85 501.49,368.51C502.61,368.17 503.72,367.59 504.84,367.17C505.95,366.75 507.07,366.39 508.18,366.00C509.30,365.61 510.41,365.06 511.53,364.83C512.64,364.59 513.76,364.33 514.87,364.33C515.99,364.33 517.10,364.33 518.22,364.33C519.33,364.33 520.45,363.91 521.56,363.49C522.40,363.18 523.24,362.28 524.07,361.82C524.91,361.36 525.75,360.65 526.58,360.65C527.42,360.65 528.25,360.65 529.09,360.65C529.93,360.65 530.76,361.16 531.60,361.48C532.44,361.81 533.27,362.42 534.11,362.65C534.95,362.89 535.78,363.16 536.62,363.16C537.45,363.16 538.29,362.51 539.13,362.15C539.96,361.79 540.80,361.18 541.64,360.98C542.31,360.82 542.97,360.65 543.64,360.65C544.20,360.65 544.76,361.69 545.32,362.15C546.04,362.76 546.77,363.27 547.49,363.83" stroke="#ee9878" stroke-width="1.0" fill="none" stroke-linejoin="round" stroke-linecap="butt"/>
<rect x="307.50" y="327.10" width="239.95" height="46.00" stroke="#d0d0d0" stroke-width="1" fill="none"/>
<path d="M307.50 373.10v-2.2M307.50 327.10v2.2M344.99 373.10v-2.2M344.99 327.10v2.2M382.48 373.10v-2.2M382.48 327.10v2.2M419.98 373.10v-2.2M419.98 327.10v2.2M457.47 373.10v-2.2M457.47 327.10v2.2M494.96 373.10v-2.2M494.96 327.10v2.2M532.45 373.10v-2.2M532.45 327.10v2.2M307.50 373.10h2.2M547.45 373.10h-2.2M307.50 351.20h2.2M547.45 351.20h-2.2M307.50 329.29h2.2M547.45 329.29h-2.2" stroke="#d0d0d0" stroke-width="0.7" fill="none"/>
<text x="307.50" y="381.60" font-size="6.4" text-anchor="middle">0</text>
<text x="344.99" y="381.60" font-size="6.4" text-anchor="middle">50</text>
<text x="382.48" y="381.60" font-size="6.4" text-anchor="middle">100</text>
<text x="419.98" y="381.60" font-size="6.4" text-anchor="middle">150</text>
<text x="457.47" y="381.60" font-size="6.4" text-anchor="middle">200</text>
<text x="494.96" y="381.60" font-size="6.4" text-anchor="middle">250</text>
<text x="532.45" y="381.60" font-size="6.4" text-anchor="middle">300</text>
<text x="305.70" y="375.70" font-size="6.4" text-anchor="end">1</text>
<text x="305.70" y="353.80" font-size="6.4" text-anchor="end">2</text>
<text x="305.70" y="331.89" font-size="6.4" text-anchor="end">3</text>
<text x="427.48" y="390.60" font-size="7.25" text-anchor="middle">Step</text>
<text transform="translate(296.40 350.40) rotate(-90)" font-size="7.4" text-anchor="middle">u<tspan font-size="6" dy="3.7">1</tspan></text>
<rect x="420.90" y="333.20" width="62.40" height="14.20" fill="#fff" stroke="#d0d0d0" stroke-width="0.7"/>
<path d="M421.50 337.10h5.6" stroke="#7dbde6" stroke-width="0.9" stroke-dasharray="1.1 1.0"/>
<path d="M422.10 344.10h5.2" stroke="#ee9878" stroke-width="0.9"/>
<text x="428.60" y="339.00" font-size="5.4">Initial Parameters</text>
<text x="428.60" y="346.00" font-size="5.4">Optimized Parameters</text>
<path d="M344.99 399.80V445.30M382.48 399.80V445.30M419.98 399.80V445.30M457.47 399.80V445.30M494.96 399.80V445.30M532.45 399.80V445.30M307.50 430.13H547.45M307.50 414.97H547.45" stroke="#f1f1f1" stroke-width="0.6" fill="none"/>
<clipPath id="cR6"><rect x="307.50" y="399.80" width="239.95" height="45.50"/></clipPath>
<path clip-path="url(#cR6)" d="M307.35,424.79C308.46,424.90 309.58,424.95 310.69,425.13C311.81,425.31 312.92,425.90 314.04,426.47C315.15,427.03 316.27,427.93 317.38,428.81C318.50,429.69 319.61,431.02 320.73,431.82C321.84,432.62 322.96,433.38 324.07,433.83C325.19,434.27 326.30,434.83 327.42,434.83C328.53,434.83 329.65,434.64 330.76,434.49C331.88,434.35 332.99,433.97 334.11,433.83C335.22,433.68 336.34,433.67 337.45,433.49C338.29,433.36 339.13,433.10 339.96,432.65C340.35,432.45 340.74,432.12 341.13,431.48C341.58,430.76 342.03,427.02 342.47,425.13C343.03,422.76 343.59,420.32 344.15,418.77C344.70,417.22 345.26,415.09 345.82,415.09C346.49,415.09 347.16,415.22 347.83,415.43C348.27,415.56 348.72,417.10 349.16,417.10C349.72,417.10 350.28,416.86 350.84,416.76C351.95,416.57 353.07,416.42 354.18,416.26C355.85,416.02 357.53,415.84 359.20,415.59C360.87,415.34 362.55,414.97 364.22,414.76C365.89,414.55 367.56,414.42 369.24,414.25C370.91,414.09 372.58,413.89 374.25,413.75C375.93,413.62 377.60,413.60 379.27,413.42C380.39,413.30 381.50,412.91 382.62,412.58C383.73,412.26 384.85,411.69 385.96,411.41C386.80,411.20 387.64,410.91 388.47,410.91C389.21,410.91 389.95,411.75 390.69,411.75C391.81,411.75 392.92,411.75 394.04,411.75C395.15,411.75 396.27,411.75 397.38,411.75C398.50,411.75 399.61,411.28 400.73,410.91C401.56,410.63 402.40,409.74 403.24,409.74C403.63,409.74 404.02,410.36 404.41,410.91C404.85,411.54 405.30,413.61 405.75,414.25C406.30,415.06 406.86,415.93 407.42,415.93C408.25,415.93 409.09,415.17 409.93,414.76C411.32,414.07 412.72,413.24 414.11,412.58C415.78,411.79 417.45,411.16 419.13,410.41C420.80,409.66 422.47,408.34 424.15,408.07C425.82,407.79 427.49,407.56 429.16,407.56C431.39,407.56 433.62,407.87 435.85,408.07C438.08,408.26 440.32,408.40 442.55,408.73C444.22,408.98 445.89,409.48 447.56,410.07C448.68,410.47 449.79,411.25 450.91,411.75C452.30,412.37 453.70,412.86 455.09,413.42C456.21,413.86 457.32,414.54 458.44,414.76C459.27,414.92 460.11,415.09 460.95,415.09C461.50,415.09 462.06,414.67 462.62,414.25C463.18,413.84 463.73,411.75 464.29,411.75C464.74,411.75 465.18,412.14 465.63,412.58C466.02,412.96 466.41,414.53 466.80,415.09C467.21,415.69 467.62,416.18 468.04,416.43C468.59,416.76 469.15,417.10 469.71,417.10C470.55,417.10 471.38,415.93 472.22,415.93C473.61,415.93 475.01,415.93 476.40,415.93C478.07,415.93 479.75,415.25 481.42,415.09C483.09,414.93 484.76,414.89 486.44,414.76C488.11,414.62 489.78,414.25 491.45,414.25C493.13,414.25 494.80,414.25 496.47,414.25C498.15,414.25 499.82,414.25 501.49,414.25C503.16,414.25 504.84,414.25 506.51,414.25C507.07,414.25 507.62,414.67 508.18,415.09C508.74,415.51 509.30,416.55 509.85,417.60C510.41,418.65 510.97,420.53 511.53,421.78C512.36,423.65 513.20,425.46 514.04,426.80C514.87,428.14 515.71,429.19 516.55,430.15C517.38,431.10 518.22,431.82 519.05,432.65C519.89,433.49 520.73,433.98 521.56,435.16C522.23,436.11 522.90,438.36 523.57,439.85C524.02,440.84 524.46,442.69 524.91,442.69C525.47,442.69 526.02,441.91 526.58,441.02C527.14,440.13 527.70,436.81 528.25,434.33C528.81,431.85 529.37,428.60 529.93,425.96C530.48,423.32 531.04,420.17 531.60,418.44C532.27,416.36 532.94,414.64 533.61,413.75C534.33,412.79 535.06,411.92 535.78,411.75C536.62,411.55 537.45,411.41 538.29,411.41C539.13,411.41 539.96,411.59 540.80,411.75C541.64,411.90 542.47,412.58 543.31,412.58C544.15,412.58 544.98,411.85 545.82,411.41C546.38,411.12 546.93,410.74 547.49,410.41" stroke="#7dbde6" stroke-width="0.9" fill="none" stroke-linejoin="round" stroke-linecap="butt" stroke-dasharray="1.1 1.0"/>
<path clip-path="url(#cR6)" d="M307.35,424.63C308.46,424.68 309.58,424.70 310.69,424.79C311.81,424.89 312.92,425.46 314.04,425.96C315.15,426.47 316.27,427.32 317.38,428.14C318.50,428.96 319.61,430.09 320.73,430.98C321.84,431.87 322.96,432.91 324.07,433.49C325.19,434.07 326.30,434.83 327.42,434.83C328.53,434.83 329.65,434.54 330.76,434.33C331.88,434.12 332.99,433.65 334.11,433.49C335.22,433.33 336.34,433.31 337.45,433.16C338.29,433.04 339.13,432.98 339.96,432.65C340.35,432.50 340.74,431.84 341.13,430.98C341.58,430.00 342.03,426.28 342.47,424.29C343.03,421.80 343.59,418.93 344.15,417.60C344.70,416.27 345.26,414.76 345.82,414.76C346.49,414.76 347.16,414.76 347.83,414.76C348.38,414.76 348.94,415.93 349.50,415.93C350.22,415.93 350.95,415.40 351.67,415.09C352.51,414.74 353.35,414.28 354.18,413.92C355.30,413.44 356.41,413.16 357.53,412.58C358.64,412.00 359.76,410.82 360.87,410.07C361.99,409.33 363.10,408.60 364.22,408.07C365.33,407.53 366.45,406.97 367.56,406.73C368.68,406.48 369.79,406.23 370.91,406.23C372.02,406.23 373.14,406.23 374.25,406.23C375.37,406.23 376.48,406.48 377.60,406.73C378.72,406.97 379.83,407.57 380.95,408.07C382.06,408.56 383.18,409.18 384.29,409.74C385.41,410.30 386.52,410.93 387.64,411.41C388.65,411.85 389.67,412.09 390.69,412.58C391.81,413.12 392.92,414.16 394.04,414.76C395.15,415.35 396.27,415.96 397.38,416.26C398.22,416.49 399.05,416.76 399.89,416.76C400.45,416.76 401.01,414.59 401.56,413.42C402.12,412.25 402.68,410.23 403.24,409.74C403.52,409.49 403.79,409.24 404.07,409.24C404.52,409.24 404.96,411.74 405.41,412.58C405.97,413.64 406.53,415.09 407.08,415.09C407.75,415.09 408.42,414.53 409.09,414.25C410.48,413.68 411.88,413.14 413.27,412.58C414.67,412.02 416.06,411.37 417.45,410.91C418.85,410.45 420.24,410.01 421.64,409.74C423.59,409.36 425.54,408.99 427.49,408.90C429.72,408.81 431.95,408.73 434.18,408.73C436.41,408.73 438.64,408.73 440.87,408.73C442.82,408.73 444.78,408.40 446.73,408.40C448.12,408.40 449.52,409.00 450.91,409.24C452.02,409.43 453.14,409.50 454.25,409.74C455.37,409.97 456.48,410.53 457.60,410.91C458.44,411.19 459.27,411.75 460.11,411.75C460.67,411.75 461.22,411.28 461.78,410.91C462.51,410.43 463.23,408.73 463.96,408.73C464.51,408.73 465.07,409.18 465.63,409.74C466.02,410.13 466.41,411.57 466.80,412.58C467.10,413.36 467.40,414.30 467.70,415.09C468.15,416.27 468.59,418.44 469.04,418.44C469.54,418.44 470.04,416.43 470.55,415.93C471.10,415.37 471.66,414.76 472.22,414.76C473.05,414.76 473.89,414.76 474.73,414.76C475.84,414.76 476.96,413.95 478.07,413.42C479.19,412.88 480.30,412.11 481.42,411.41C482.53,410.72 483.65,409.87 484.76,409.24C485.88,408.61 486.99,408.02 488.11,407.56C489.22,407.10 490.34,406.63 491.45,406.39C492.57,406.16 493.68,405.89 494.80,405.89C495.92,405.89 497.03,405.89 498.15,405.89C499.26,405.89 500.38,406.44 501.49,406.73C503.16,407.16 504.84,407.65 506.51,408.07C508.18,408.48 509.85,409.00 511.53,409.24C513.20,409.47 514.87,409.53 516.55,409.74C517.94,409.91 519.33,410.08 520.73,410.41C521.84,410.67 522.96,411.23 524.07,411.75C524.91,412.13 525.75,412.91 526.58,413.08C527.42,413.26 528.25,413.42 529.09,413.42C529.93,413.42 530.76,412.91 531.60,412.58C532.44,412.26 533.27,411.65 534.11,411.41C534.95,411.18 535.78,410.91 536.62,410.91C537.45,410.91 538.29,411.18 539.13,411.41C539.96,411.65 540.80,412.21 541.64,412.58C542.31,412.88 542.97,413.42 543.64,413.42C544.37,413.42 545.09,412.03 545.82,411.41C546.38,410.93 546.93,410.52 547.49,410.07" stroke="#ee9878" stroke-width="1.0" fill="none" stroke-linejoin="round" stroke-linecap="butt"/>
<rect x="307.50" y="399.80" width="239.95" height="45.50" stroke="#d0d0d0" stroke-width="1" fill="none"/>
<path d="M307.50 445.30v-2.2M307.50 399.80v2.2M344.99 445.30v-2.2M344.99 399.80v2.2M382.48 445.30v-2.2M382.48 399.80v2.2M419.98 445.30v-2.2M419.98 399.80v2.2M457.47 445.30v-2.2M457.47 399.80v2.2M494.96 445.30v-2.2M494.96 399.80v2.2M532.45 445.30v-2.2M532.45 399.80v2.2M307.50 445.30h2.2M547.45 445.30h-2.2M307.50 430.13h2.2M547.45 430.13h-2.2M307.50 414.97h2.2M547.45 414.97h-2.2M307.50 399.80h2.2M547.45 399.80h-2.2" stroke="#d0d0d0" stroke-width="0.7" fill="none"/>
<text x="307.50" y="453.80" font-size="6.4" text-anchor="middle">0</text>
<text x="344.99" y="453.80" font-size="6.4" text-anchor="middle">50</text>
<text x="382.48" y="453.80" font-size="6.4" text-anchor="middle">100</text>
<text x="419.98" y="453.80" font-size="6.4" text-anchor="middle">150</text>
<text x="457.47" y="453.80" font-size="6.4" text-anchor="middle">200</text>
<text x="494.96" y="453.80" font-size="6.4" text-anchor="middle">250</text>
<text x="532.45" y="453.80" font-size="6.4" text-anchor="middle">300</text>
<text x="305.70" y="447.90" font-size="6.4" text-anchor="end">1.5</text>
<text x="305.70" y="432.73" font-size="6.4" text-anchor="end">2</text>
<text x="305.70" y="417.57" font-size="6.4" text-anchor="end">2.5</text>
<text x="305.70" y="402.40" font-size="6.4" text-anchor="end">3</text>
<text x="427.48" y="462.80" font-size="7.25" text-anchor="middle">Step</text>
<text transform="translate(291.00 422.85) rotate(-90)" font-size="7.4" text-anchor="middle">u<tspan font-size="6" dy="3.7">2</tspan></text>
<rect x="420.70" y="427.20" width="62.70" height="14.00" fill="#fff" stroke="#d0d0d0" stroke-width="0.7"/>
<path d="M421.30 431.10h5.6" stroke="#7dbde6" stroke-width="0.9" stroke-dasharray="1.1 1.0"/>
<path d="M421.90 438.10h5.2" stroke="#ee9878" stroke-width="0.9"/>
<text x="428.40" y="433.00" font-size="5.4">Initial Parameters</text>
<text x="428.40" y="440.00" font-size="5.4">Optimized Parameters</text>
</svg></body></html>
